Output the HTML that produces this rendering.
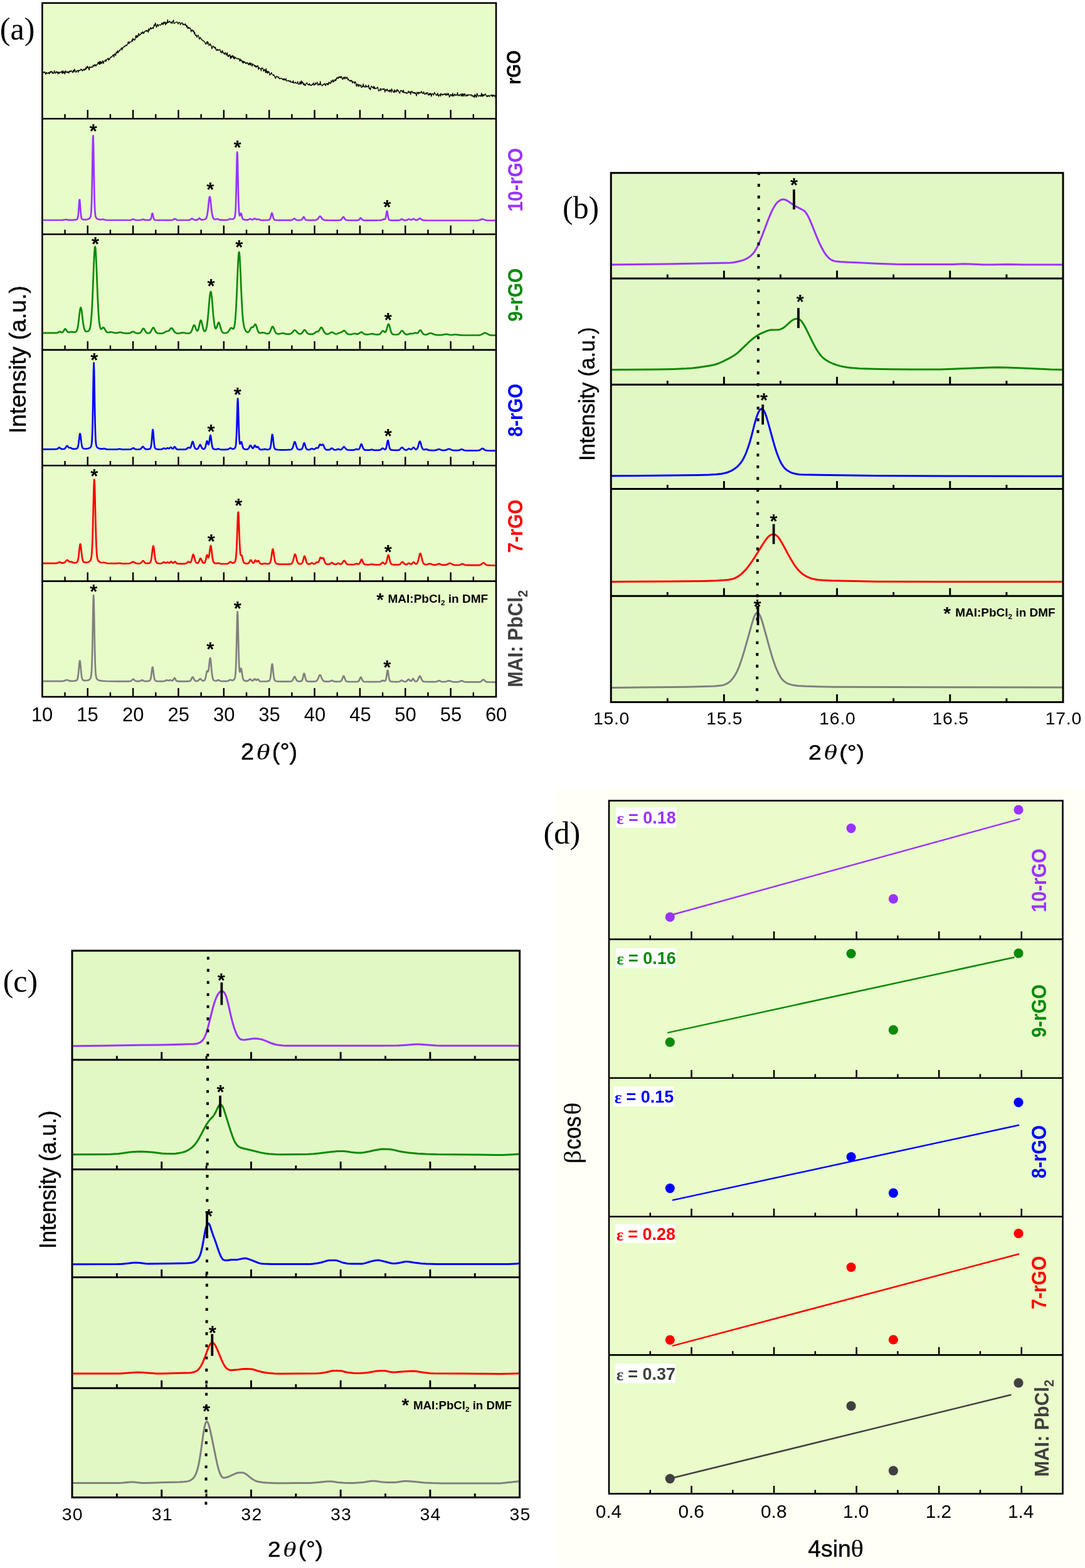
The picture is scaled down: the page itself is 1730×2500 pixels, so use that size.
<!DOCTYPE html>
<html lang="en"><head><meta charset="utf-8"><title>XRD patterns and Williamson-Hall plots</title>
<style>html,body{margin:0;padding:0;background:#fff}svg{display:block}text{font-kerning:none;white-space:pre}.hv{stroke:#000;stroke-width:.45px;stroke-linejoin:round}</style></head><body>
<svg width="1730" height="2500" viewBox="0 0 1730 2500">
<rect width="1730" height="2500" fill="#fff"/>
<g id="panel-a">
<rect x="67.4" y="4.8" width="723.6" height="1106.2" fill="#e8fcc9"/>
<path d="M139.76 189.2v-14M212.12 189.2v-14M284.48 189.2v-14M356.84 189.2v-14M429.2 189.2v-14M501.56 189.2v-14M573.92 189.2v-14M646.28 189.2v-14M718.64 189.2v-14M103.58 189.2v-7.2M175.94 189.2v-7.2M248.3 189.2v-7.2M320.66 189.2v-7.2M393.02 189.2v-7.2M465.38 189.2v-7.2M537.74 189.2v-7.2M610.1 189.2v-7.2M682.46 189.2v-7.2M754.82 189.2v-7.2M139.76 373.5v-14M212.12 373.5v-14M284.48 373.5v-14M356.84 373.5v-14M429.2 373.5v-14M501.56 373.5v-14M573.92 373.5v-14M646.28 373.5v-14M718.64 373.5v-14M103.58 373.5v-7.2M175.94 373.5v-7.2M248.3 373.5v-7.2M320.66 373.5v-7.2M393.02 373.5v-7.2M465.38 373.5v-7.2M537.74 373.5v-7.2M610.1 373.5v-7.2M682.46 373.5v-7.2M754.82 373.5v-7.2M139.76 557.9v-14M212.12 557.9v-14M284.48 557.9v-14M356.84 557.9v-14M429.2 557.9v-14M501.56 557.9v-14M573.92 557.9v-14M646.28 557.9v-14M718.64 557.9v-14M103.58 557.9v-7.2M175.94 557.9v-7.2M248.3 557.9v-7.2M320.66 557.9v-7.2M393.02 557.9v-7.2M465.38 557.9v-7.2M537.74 557.9v-7.2M610.1 557.9v-7.2M682.46 557.9v-7.2M754.82 557.9v-7.2M139.76 742.3v-14M212.12 742.3v-14M284.48 742.3v-14M356.84 742.3v-14M429.2 742.3v-14M501.56 742.3v-14M573.92 742.3v-14M646.28 742.3v-14M718.64 742.3v-14M103.58 742.3v-7.2M175.94 742.3v-7.2M248.3 742.3v-7.2M320.66 742.3v-7.2M393.02 742.3v-7.2M465.38 742.3v-7.2M537.74 742.3v-7.2M610.1 742.3v-7.2M682.46 742.3v-7.2M754.82 742.3v-7.2M139.76 926.6v-14M212.12 926.6v-14M284.48 926.6v-14M356.84 926.6v-14M429.2 926.6v-14M501.56 926.6v-14M573.92 926.6v-14M646.28 926.6v-14M718.64 926.6v-14M103.58 926.6v-7.2M175.94 926.6v-7.2M248.3 926.6v-7.2M320.66 926.6v-7.2M393.02 926.6v-7.2M465.38 926.6v-7.2M537.74 926.6v-7.2M610.1 926.6v-7.2M682.46 926.6v-7.2M754.82 926.6v-7.2M139.76 1111v-14M212.12 1111v-14M284.48 1111v-14M356.84 1111v-14M429.2 1111v-14M501.56 1111v-14M573.92 1111v-14M646.28 1111v-14M718.64 1111v-14M103.58 1111v-7.2M175.94 1111v-7.2M248.3 1111v-7.2M320.66 1111v-7.2M393.02 1111v-7.2M465.38 1111v-7.2M537.74 1111v-7.2M610.1 1111v-7.2M682.46 1111v-7.2M754.82 1111v-7.2" fill="none" stroke="#000" stroke-width="2.4"/>
<path d="M67.9 116.1L68.6 116.6 69.3 115.7 70.1 114.7 70.8 115.5 71.5 114.6 72.2 116.5 72.9 118.7 73.7 115.6 74.4 115.5 75.1 117.4 75.8 117.2 76.5 116.9 77.3 115.2 78 116.7 78.7 118 79.4 114.6 80.1 116.1 80.9 113.7 81.6 114.7 82.3 113.8 83 116.5 83.7 114.7 84.5 117.3 85.2 117.1 85.9 116.5 86.6 112.5 87.3 115.8 88.1 116.6 88.8 116.8 89.5 113.9 90.2 115.6 90.9 114.7 91.7 114.9 92.4 118 93.1 114.7 93.8 115.9 94.5 117.4 95.3 114.8 96 115.5 96.7 115.8 97.4 115.6 98.1 113.3 98.9 115.5 99.6 117.5 100.3 112.5 101 116.5 101.7 115.2 102.5 113.8 103.2 118.2 103.9 116.1 104.6 112.7 105.3 114.8 106.1 115.6 106.8 114.2 107.5 115.6 108.2 114.3 108.9 115.5 109.7 116.8 110.4 113.1 111.1 114.6 111.8 113.4 112.5 114.4 113.3 112.1 114 113.1 114.7 113.7 115.4 115.5 116.1 115.8 116.9 111.6 117.6 112.4 118.3 114.8 119 110.2 119.7 112.7 120.5 113.3 121.2 115.5 121.9 114.4 122.6 112.6 123.3 112.4 124.1 112.5 124.8 115.4 125.5 111.9 126.2 112 126.9 112.9 127.7 112 128.4 111.7 129.1 110 129.8 111.6 130.5 110.7 131.3 113.3 132 112.2 132.7 110.9 133.4 111.9 134.1 109.9 134.9 112.1 135.6 110.1 136.3 110.9 137 107.5 137.7 110 138.5 106.4 139.2 105.5 139.9 108.3 140.6 107 141.3 108.6 142.1 111.9 142.8 106.4 143.5 106.5 144.2 107.7 144.9 107.9 145.7 106.5 146.4 106.2 147.1 107.4 147.8 106.8 148.5 103.9 149.3 105.3 150 105.2 150.7 103 151.4 105 152.1 102.8 152.9 105.6 153.6 103.9 154.3 103.5 155 102 155.7 102.5 156.5 99 157.2 100.1 157.9 102.4 158.6 97.8 159.3 102.6 160.1 97.8 160.8 101.7 161.5 98.7 162.2 101.1 162.9 99.7 163.7 96.5 164.4 100.9 165.1 100.9 165.8 98 166.5 97.3 167.3 97.1 168 95.4 168.7 98.5 169.4 95.4 170.1 95.8 170.9 94.2 171.6 94 172.3 92.5 173 96.4 173.7 93.6 174.5 95.1 175.2 93 175.9 91.3 176.6 91.5 177.3 90.6 178.1 91.1 178.8 89.9 179.5 89.5 180.2 87.2 180.9 87.6 181.7 91.2 182.4 86.7 183.1 85.5 183.8 87.3 184.5 88.5 185.3 83.1 186 84.6 186.7 83.2 187.4 80.7 188.1 84.4 188.9 82.5 189.6 82 190.3 80 191 81.4 191.7 79.1 192.5 79.1 193.2 76.9 193.9 76.1 194.6 79.8 195.3 76 196.1 76.7 196.8 75.5 197.5 74.2 198.2 73.5 198.9 74.8 199.7 72.6 200.4 72.2 201.1 71.8 201.8 73.2 202.5 71.7 203.3 70.6 204 68.3 204.7 66.3 205.4 69.7 206.1 69.1 206.9 66.6 207.6 67.2 208.3 67 209 66.5 209.7 66.1 210.5 63.3 211.2 66.1 211.9 60.8 212.6 63.9 213.3 62.8 214.1 62.9 214.8 64.1 215.5 63 216.2 58 216.9 56.6 217.7 60.4 218.4 56.9 219.1 58.1 219.8 59.2 220.5 54.5 221.3 53.3 222 56.9 222.7 56.1 223.4 55.2 224.1 55.3 224.9 53.3 225.6 51.8 226.3 53.7 227 51.9 227.7 50.3 228.5 53.6 229.2 52.2 229.9 52.6 230.6 49.8 231.3 50 232.1 49 232.8 48.7 233.5 50.2 234.2 48.1 234.9 49.6 235.7 49.1 236.4 51.6 237.1 45.4 237.8 48.8 238.5 46.8 239.3 46.5 240 43.6 240.7 44.9 241.4 46.6 242.1 44.8 242.9 44.7 243.6 43.7 244.3 45.7 245 43.4 245.7 39.3 246.5 41.5 247.2 39 247.9 36.5 248.6 40.8 249.3 43.7 250.1 41.2 250.8 38.8 251.5 38.9 252.2 42.2 252.9 40.2 253.7 39.8 254.4 39.3 255.1 39.3 255.8 40.3 256.5 39.6 257.3 38.8 258 36.5 258.7 38.9 259.4 36.6 260.1 39.5 260.9 35.2 261.6 37 262.3 37 263 34.6 263.7 39.6 264.5 38.9 265.2 35.5 265.9 37.4 266.6 36.6 267.3 31.4 268.1 36.1 268.8 35.4 269.5 35.6 270.2 33.5 270.9 34.7 271.7 34.8 272.4 37.1 273.1 35.6 273.8 34.9 274.5 37.5 275.3 33.9 276 34.2 276.7 31.8 277.4 37.6 278.1 36.6 278.9 36.6 279.6 36.2 280.3 35.4 281 35.7 281.7 35 282.5 35.2 283.2 35.8 283.9 38.4 284.6 36.9 285.3 36.1 286.1 35.4 286.8 35.5 287.5 39.5 288.2 37.9 288.9 37.4 289.7 36.9 290.4 35.9 291.1 38 291.8 39.9 292.5 38.1 293.3 38.8 294 39.2 294.7 40.1 295.4 37.7 296.1 40.4 296.9 39.8 297.6 43.3 298.3 40.9 299 43.7 299.7 45.9 300.5 43.3 301.2 43.4 301.9 45.3 302.6 45.6 303.3 44.5 304.1 47.7 304.8 50.9 305.5 47.7 306.2 48.5 306.9 47.7 307.7 50.7 308.4 48.7 309.1 49.7 309.8 54.4 310.5 51.4 311.3 55.5 312 56.9 312.7 55.5 313.4 56.7 314.1 59.7 314.9 56.8 315.6 56.8 316.3 56.2 317 59.2 317.7 62.3 318.5 62.1 319.2 59.5 319.9 60.2 320.6 61.4 321.3 63.4 322.1 63.1 322.8 64.4 323.5 65.1 324.2 64.6 324.9 65.6 325.7 66.5 326.4 66.5 327.1 68 327.8 70.8 328.5 69.1 329.3 68.7 330 66.2 330.7 70.2 331.4 66.7 332.1 68.1 332.9 72.4 333.6 72.6 334.3 71.5 335 69.3 335.7 72.1 336.5 72 337.2 74.6 337.9 77.8 338.6 74.8 339.3 73.5 340.1 73.3 340.8 75.6 341.5 75.8 342.2 74.6 342.9 77.2 343.7 75.5 344.4 79.7 345.1 80.1 345.8 80.5 346.5 78.3 347.3 80.4 348 79.7 348.7 79.6 349.4 80.1 350.1 78.9 350.9 79 351.6 83.2 352.3 81.9 353 83 353.7 84.7 354.5 80.4 355.2 82.4 355.9 84.4 356.6 85.1 357.3 84.2 358.1 86.9 358.8 85.9 359.5 83.8 360.2 84.6 360.9 87.9 361.7 87.6 362.4 83.9 363.1 89.8 363.8 88.8 364.5 90.4 365.3 87.8 366 88.2 366.7 87.1 367.4 93.7 368.1 89.4 368.9 92.7 369.6 89.2 370.3 90.9 371 88.1 371.7 90.6 372.5 93.2 373.2 89.7 373.9 94 374.6 93.1 375.3 91 376.1 92.3 376.8 92.7 377.5 93.7 378.2 93.2 378.9 93.1 379.7 94.3 380.4 93.4 381.1 93.3 381.8 95.7 382.5 97.6 383.3 93.9 384 96.8 384.7 96 385.4 95.8 386.1 99.3 386.9 97.3 387.6 101 388.3 97.5 389 99.8 389.7 99 390.5 98.4 391.2 101 391.9 100.1 392.6 101.6 393.3 100.8 394.1 99.3 394.8 101.3 395.5 101.8 396.2 103.6 396.9 100.7 397.7 102.5 398.4 99.9 399.1 104.1 399.8 101.5 400.5 100.5 401.3 103.7 402 105.9 402.7 101.7 403.4 102.7 404.1 103.5 404.9 103.1 405.6 105.9 406.3 104.2 407 104.6 407.7 107.1 408.5 105.1 409.2 107.4 409.9 105.3 410.6 105.2 411.3 104.4 412.1 111 412.8 107.6 413.5 108.9 414.2 108.8 414.9 109.4 415.7 109.6 416.4 113.1 417.1 108.5 417.8 108 418.5 109.3 419.3 109.1 420 113 420.7 113.6 421.4 110.9 422.1 110.6 422.9 112.8 423.6 116.1 424.3 109.4 425 115.4 425.7 113.1 426.5 117.1 427.2 113.9 427.9 115.6 428.6 114 429.3 115.3 430.1 119.7 430.8 119.1 431.5 117.4 432.2 117 432.9 115.6 433.7 118.5 434.4 119.5 435.1 119.8 435.8 120.1 436.5 118.8 437.3 120.9 438 121.3 438.7 123.9 439.4 125.2 440.1 122.2 440.9 121.4 441.6 123 442.3 122.4 443 122.5 443.7 123.9 444.5 122.6 445.2 125.7 445.9 124.8 446.6 125.7 447.3 125.2 448.1 124.6 448.8 124.5 449.5 126 450.2 125.7 450.9 127.3 451.7 127.2 452.4 125.1 453.1 127.8 453.8 125.6 454.5 127.1 455.3 127.9 456 125.1 456.7 129 457.4 129.3 458.1 129 458.9 128.7 459.6 129 460.3 128.2 461 129.6 461.7 129.3 462.5 130.5 463.2 128.5 463.9 131.1 464.6 131.1 465.3 130.7 466.1 130.3 466.8 132.2 467.5 128.5 468.2 132.2 468.9 132 469.7 132.2 470.4 132.4 471.1 130.8 471.8 131.5 472.5 133.2 473.3 132.9 474 132.6 474.7 129.8 475.4 133.3 476.1 134.5 476.9 134.3 477.6 133.1 478.3 130.1 479 134.4 479.7 132.7 480.5 128.7 481.2 133.7 481.9 130.6 482.6 131.1 483.3 132.3 484.1 135.6 484.8 132.9 485.5 134.1 486.2 136.7 486.9 136.5 487.7 133.7 488.4 133.5 489.1 131.9 489.8 132.9 490.5 134.9 491.3 134.9 492 134.5 492.7 136.1 493.4 133.1 494.1 134.4 494.9 135.8 495.6 135.6 496.3 136.5 497 135.4 497.7 134.2 498.5 135.4 499.2 133.1 499.9 132 500.6 135.8 501.3 134.7 502.1 135.3 502.8 131.9 503.5 134.1 504.2 133.7 504.9 133.3 505.7 130.9 506.4 134.1 507.1 136.1 507.8 135.2 508.5 133.5 509.3 134.5 510 135.7 510.7 129.7 511.4 134.1 512.1 135.2 512.9 135.4 513.6 137 514.3 136 515 134.6 515.7 134.5 516.5 135.2 517.2 132.9 517.9 133.6 518.6 135.2 519.3 136.8 520.1 133.1 520.8 133.2 521.5 133.5 522.2 135.3 522.9 132.8 523.7 135.2 524.4 130.9 525.1 132 525.8 131.7 526.5 133.1 527.3 133.2 528 128.6 528.7 129.2 529.4 131 530.1 128.9 530.9 127 531.6 131 532.3 129.6 533 129.1 533.7 127 534.5 129 535.2 126.3 535.9 128.1 536.6 124.2 537.3 123.8 538.1 125.1 538.8 123.2 539.5 125.1 540.2 124.1 540.9 121.8 541.7 123.3 542.4 122.4 543.1 124.4 543.8 121.7 544.5 122 545.3 124.8 546 126.6 546.7 126.2 547.4 123.1 548.1 123.6 548.9 126.1 549.6 123.5 550.3 122.4 551 124.6 551.7 125.6 552.5 123.8 553.2 122.9 553.9 123.6 554.6 127.6 555.3 125.6 556.1 127.1 556.8 128.1 557.5 129.2 558.2 128 558.9 129.8 559.7 127.9 560.4 129.2 561.1 128.4 561.8 132.5 562.5 130.9 563.3 130 564 131.1 564.7 131.6 565.4 133.5 566.1 129.9 566.9 131.2 567.6 132.6 568.3 137.9 569 135.5 569.7 133.9 570.5 135.6 571.2 138.1 571.9 134.5 572.6 134.5 573.3 137.4 574.1 136.5 574.8 137 575.5 135.2 576.2 139.6 576.9 139.4 577.7 137.7 578.4 138.1 579.1 133.7 579.8 138.4 580.5 137.2 581.3 138.5 582 139.1 582.7 137.5 583.4 135.4 584.1 139.1 584.9 137.4 585.6 138.3 586.3 138 587 138.6 587.7 135.4 588.5 141.5 589.2 140 589.9 141.6 590.6 143.2 591.3 140 592.1 137.1 592.8 138.7 593.5 138.3 594.2 139.6 594.9 140.7 595.7 137.3 596.4 141.4 597.1 138.3 597.8 141.5 598.5 140.9 599.3 140.6 600 141.1 600.7 140.4 601.4 140.4 602.1 138.7 602.9 141.6 603.6 144.8 604.3 145.2 605 144.1 605.7 143.2 606.5 140.9 607.2 144.6 607.9 142.1 608.6 142.2 609.3 141.9 610.1 142.7 610.8 141.9 611.5 142.6 612.2 141 612.9 142.3 613.7 146.9 614.4 143.1 615.1 142.9 615.8 144.3 616.5 144.7 617.3 141.8 618 143.4 618.7 145.5 619.4 144.5 620.1 144.3 620.9 146.9 621.6 143.2 622.3 144.6 623 143.7 623.7 147.3 624.5 141.5 625.2 143.8 625.9 144.2 626.6 146.3 627.3 146.3 628.1 147.7 628.8 142.8 629.5 146.8 630.2 145.1 630.9 144.6 631.7 146.7 632.4 144.3 633.1 142.4 633.8 145.4 634.5 143.5 635.3 145 636 146.8 636.7 146.8 637.4 149 638.1 146.1 638.9 143.9 639.6 145.2 640.3 145 641 144.6 641.7 147.4 642.5 145.7 643.2 143.5 643.9 148.1 644.6 146.8 645.3 147.6 646.1 147.3 646.8 148.2 647.5 147.3 648.2 149.4 648.9 148 649.7 148.1 650.4 148.2 651.1 145 651.8 147.3 652.5 147.2 653.3 148.1 654 145.5 654.7 150.6 655.4 148.1 656.1 145.9 656.9 145.2 657.6 147.6 658.3 148 659 147 659.7 148.5 660.5 147.3 661.2 149.4 661.9 147.3 662.6 148.5 663.3 150.3 664.1 153 664.8 147 665.5 147.9 666.2 147.3 666.9 150.2 667.7 146.9 668.4 148.1 669.1 148.9 669.8 147.3 670.5 147.4 671.3 148.2 672 145.5 672.7 146.6 673.4 148.4 674.1 149.4 674.9 148.9 675.6 146.2 676.3 148.4 677 150.6 677.7 150.2 678.5 149.2 679.2 147.8 679.9 150.4 680.6 148.4 681.3 147.4 682.1 148.1 682.8 151.9 683.5 149.9 684.2 151.5 684.9 148.7 685.7 151.2 686.4 148.6 687.1 149.4 687.8 153.9 688.5 151 689.3 148.9 690 149.6 690.7 150.4 691.4 151.9 692.1 149.1 692.9 147 693.6 149.5 694.3 150 695 150.2 695.7 152.3 696.5 150.7 697.2 151.6 697.9 148.3 698.6 151.7 699.3 153.9 700.1 151.6 700.8 150.8 701.5 150.7 702.2 153.5 702.9 148.9 703.7 150.3 704.4 151.3 705.1 151.8 705.8 149.8 706.5 151.1 707.3 150.2 708 150.9 708.7 150.5 709.4 148.8 710.1 150.7 710.9 152.2 711.6 149.1 712.3 150.4 713 151.9 713.7 149 714.5 151.1 715.2 149 715.9 152.8 716.6 154.8 717.3 154.3 718.1 150.5 718.8 152.2 719.5 151.1 720.2 151.1 720.9 153.6 721.7 148.7 722.4 152.8 723.1 150.9 723.8 153.4 724.5 151.3 725.3 149.9 726 151.5 726.7 152.3 727.4 151.1 728.1 151.9 728.9 150.2 729.6 147.5 730.3 152.7 731 152.3 731.7 151.4 732.5 151.3 733.2 153 733.9 150.5 734.6 150 735.3 150.9 736.1 153.3 736.8 149 737.5 153.4 738.2 150.3 738.9 149.5 739.7 153.5 740.4 151.3 741.1 149.2 741.8 150.9 742.5 153.1 743.3 153.5 744 150.8 744.7 152.2 745.4 152.8 746.1 150.5 746.9 152.2 747.6 151.6 748.3 150.8 749 150.9 749.7 151.8 750.5 151.8 751.2 150.8 751.9 151 752.6 153.7 753.3 152.2 754.1 153.3 754.8 153.9 755.5 152.9 756.2 155.7 756.9 150.5 757.7 153.3 758.4 151.4 759.1 155.1 759.8 154.9 760.5 148.7 761.3 150.4 762 153.2 762.7 153.4 763.4 153.3 764.1 152 764.9 152.9 765.6 153.2 766.3 152 767 153.9 767.7 148.3 768.5 153.2 769.2 150.4 769.9 153.8 770.6 151.8 771.3 150.7 772.1 152.9 772.8 150.7 773.5 150.7 774.2 149.6 774.9 152.3 775.7 153.2 776.4 154.1 777.1 152.1 777.8 154.1 778.5 152.4 779.3 152.2 780 153.4 780.7 154.2 781.4 151.8 782.1 152 782.9 152.2 783.6 152.6 784.3 150.9 785 154.2 785.7 151.8 786.5 153.3 787.2 151.1 787.9 153.1 788.6 153.2 789.3 151.8 790.1 156" fill="none" stroke="#000" stroke-width="1.25" stroke-linejoin="round" stroke-linecap="butt"/>
<path d="M67.6 351L99.6 350.9 101.6 350.7 104.6 350 105.6 350 108.1 350.6 110.1 350.8 116.6 350.7 120.1 350.4 121.6 350.1 122.6 349.7 123.1 349.2 123.6 348.4 124.1 346.7 124.6 343.7 125.1 338.7 125.6 331.9 126.1 324.4 126.6 318.8 127.1 318.4 127.6 323.5 128.1 330.9 128.6 337.9 129.1 343.1 129.6 346.4 130.1 348.1 130.6 349 131.1 349.4 132.1 349.8 134.1 350.1 136.6 350.1 139.1 349.8 140.6 349.4 141.6 348.9 142.6 348.2 143.1 347.7 143.6 347 144.1 346 144.6 344.4 145.1 341.3 145.6 335.1 146.1 323.5 146.6 304.1 147.1 276.8 147.6 245.6 148.1 220.9 148.6 216.3 149.1 234.9 149.6 265.2 150.1 294.8 150.6 317.3 151.1 331.6 151.6 339.5 152.1 343.5 152.6 345.6 153.1 346.8 153.6 347.5 154.1 348.1 155.1 348.9 156.6 349.6 158.6 350 160.6 350.2 162.1 350 164.1 349.7 165.1 349.8 167.6 350.5 169.6 350.8 182.1 351 206.1 351 208.1 350.9 209.6 350.5 211.6 349.6 212.1 349.6 212.6 349.6 215.1 350.6 216.6 350.9 221.1 351 224.1 350.9 225.6 350.5 227.6 349.9 228.6 349.9 231.1 350.7 233.1 350.9 237.1 350.9 238.6 350.7 239.1 350.6 239.6 350.3 240.1 349.8 240.6 348.9 241.1 347.3 241.6 345.1 242.1 342.6 242.6 340.6 243.1 340.2 243.6 341.7 244.6 346.5 245.1 348.4 245.6 349.5 246.1 350.2 246.6 350.5 247.6 350.8 251.1 351 268.1 351.1 273.6 351 275.1 350.7 276.1 350.3 278.1 349 278.6 348.9 279.1 349 280.1 349.5 281.6 350.4 282.6 350.8 284.6 351 297.1 351 301.1 350.9 302.6 350.6 303.6 350.1 305.1 349 305.6 348.7 306.1 348.5 306.6 348.6 307.1 348.8 309.1 350.2 310.1 350.6 311.6 350.8 313.6 350.7 314.6 350.4 315.1 350.2 315.6 349.8 317.1 348.3 317.6 348 318.1 348.1 318.6 348.4 320.1 349.8 320.6 350.1 321.6 350.4 323.1 350.4 325.6 350 327.1 349.5 327.6 349.2 328.1 348.8 328.6 348.1 329.1 347.2 329.6 345.8 330.1 343.9 330.6 341.4 331.1 338.1 331.6 334.1 332.1 329.6 332.6 324.8 333.1 320.1 333.6 316.3 334.1 313.9 334.6 313.7 335.1 315.6 335.6 319.1 336.1 323.6 336.6 328.5 337.1 333.1 337.6 337.2 338.1 340.7 338.6 343.4 339.1 345.4 339.6 346.9 340.1 347.9 340.6 348.6 341.1 349.1 341.6 349.4 342.6 349.7 343.6 349.7 345.1 349.4 346.1 349.1 346.6 349.1 347.1 349.1 348.6 349.8 350.1 350.4 351.6 350.7 356.6 350.8 361.6 350.7 363.1 350.5 364.6 350 366.1 349.3 366.6 349.1 367.1 349 368.1 349.1 369.6 349.5 370.6 349.5 371.6 349.3 372.6 348.7 373.1 348.2 373.6 347.6 374.1 346.7 374.6 345 375.1 341.8 375.6 335.4 376.1 323.9 376.6 305.8 377.1 282 377.6 257.6 378.1 242.5 378.6 246.2 379.1 266 379.6 291 380.1 313 380.6 328.5 381.1 337.7 381.6 342.2 382.1 343.8 382.6 343.8 383.1 342.7 383.6 341.2 384.1 340.1 384.6 340.5 385.1 342.2 385.6 344.5 386.1 346.6 386.6 348.1 387.1 349 387.6 349.6 388.1 349.9 389.1 350.2 391.6 350.6 394.1 350.6 395.6 350.4 397.1 349.6 398.1 349.1 398.6 348.9 399.1 349 400.1 349.4 401.1 349.9 402.1 350.2 402.6 350.2 403.1 350.1 404.1 349.5 405.1 348.8 405.6 348.6 406.1 348.5 406.6 348.6 408.6 349.7 409.1 349.9 410.1 349.8 411.6 349.5 412.1 349.5 413.1 349.9 414.6 350.6 416.1 350.9 419.6 351.1 426.1 351 428.1 350.8 429.1 350.5 429.6 350.2 430.1 349.7 430.6 348.9 431.1 347.7 431.6 346 432.6 341.8 433.1 340.2 433.6 339.6 434.1 340.5 434.6 342.3 435.1 344.4 435.6 346.4 436.1 348 436.6 349.2 437.1 349.9 437.6 350.3 438.1 350.6 439.6 350.9 444.6 351.2 461.1 351.2 464.1 351.1 465.1 350.9 466.1 350.5 467.1 349.8 468.1 348.9 468.6 348.6 469.1 348.5 469.6 348.6 470.1 348.8 471.6 350.1 472.6 350.7 473.6 351 475.6 351.1 479.1 351 480.1 350.8 480.6 350.6 481.1 350.3 481.6 349.8 482.1 349 483.1 347.1 483.6 346.2 484.1 345.8 484.6 346 485.1 346.7 486.1 348.7 486.6 349.5 487.1 350.1 487.6 350.5 488.1 350.8 489.1 351 493.1 351.2 501.1 351.1 503.6 350.8 504.6 350.5 505.6 350 506.1 349.6 507.1 348.4 508.6 346.2 509.1 345.6 509.6 345.1 510.1 344.8 510.6 344.9 511.1 345.3 511.6 345.8 513.6 348.7 514.1 349.3 515.1 350.1 516.1 350.6 517.6 351 521.6 351.2 536.6 351.3 541.6 351.1 542.6 350.9 543.6 350.5 544.1 350.1 544.6 349.6 545.1 348.9 546.6 346.5 547.1 346 547.6 345.9 548.1 346.3 548.6 346.9 549.6 348.6 550.1 349.3 550.6 349.9 551.1 350.4 551.6 350.7 552.6 351 555.1 351.2 566.6 351.3 570.6 351.2 571.6 350.9 572.1 350.6 572.6 350.2 573.1 349.7 574.1 348.3 574.6 347.8 575.1 347.6 575.6 347.8 576.1 348.4 577.1 349.8 577.6 350.3 578.1 350.7 579.1 351.1 581.1 351.3 597.1 351.4 606.1 351.2 607.6 351.1 609.1 350.6 611.1 349.7 611.6 349.6 613.1 349.7 613.6 349.6 614.1 349.3 614.6 348.3 615.1 346.5 615.6 343.7 616.1 340.4 616.6 337.4 617.1 336.4 617.6 338 618.1 341.2 618.6 344.6 619.1 347.2 619.6 349 620.1 350 620.6 350.5 621.1 350.8 622.6 351.1 627.1 351.3 634.6 351.3 636.6 351.1 637.6 350.8 639.6 349.6 640.1 349.5 640.6 349.4 641.1 349.5 643.6 350.8 645.1 351.2 647.1 351.2 648.6 350.9 649.6 350.5 651.1 349.6 651.6 349.4 652.1 349.3 652.6 349.4 654.6 350.4 655.1 350.5 655.6 350.6 656.1 350.5 657.1 350.1 658.6 349 659.1 348.9 659.6 348.9 660.1 349.1 662.1 350.5 663.1 350.9 664.1 350.9 665.1 350.8 666.1 350.3 667.6 349.2 668.6 348.5 669.1 348.3 669.6 348.2 670.1 348.4 671.1 349.1 672.6 350.3 673.6 350.8 675.1 351.2 678.6 351.4 722.6 351.5 759.1 351.5 762.6 351.3 764.6 350.8 768.1 349.6 769.1 349.4 770.1 349.5 771.6 350 774.1 350.9 776.1 351.3 779.6 351.5 790.6 351.6" fill="none" stroke="#9933ff" stroke-width="2.7" stroke-linejoin="round" stroke-linecap="butt"/>
<path d="M67.6 530.9L89.1 530.9 91.1 530.6 92.1 530.3 93.6 529.4 94.6 528.8 95.1 528.6 95.6 528.7 96.6 529.2 97.6 529.7 98.1 529.9 98.6 530 99.1 530 99.6 529.8 100.1 529.4 100.6 528.9 101.1 528.2 102.6 525.7 103.1 524.9 103.6 524.5 104.1 524.3 104.6 524.6 105.1 525.1 106.1 526.7 107.1 528.3 107.6 528.8 108.1 529.3 108.6 529.6 109.1 529.7 110.1 529.7 113.1 529.1 114.6 529.1 118.1 529.7 119.6 529.6 120.6 529.3 121.1 528.9 121.6 528.4 122.1 527.7 122.6 526.6 123.1 525.2 123.6 523.3 124.1 520.9 124.6 517.9 125.1 514.4 125.6 510.4 126.6 501.7 127.1 497.6 127.6 494.1 128.1 491.6 128.6 490.4 129.1 490.6 129.6 492.3 130.1 495.1 130.6 498.8 131.1 503 131.6 507.3 132.1 511.5 132.6 515.3 133.1 518.6 133.6 521.3 134.1 523.5 134.6 525.1 135.1 526.3 135.6 527.2 136.1 527.8 136.6 528.2 137.1 528.4 138.1 528.5 139.6 528.3 140.6 527.9 141.1 527.6 141.6 527.1 142.1 526.5 142.6 525.6 143.1 524.4 143.6 522.7 144.1 520.3 144.6 517.2 145.1 513 145.6 507.6 146.1 500.9 146.6 492.7 147.1 483.1 147.6 472 148.1 459.8 148.6 446.9 149.1 433.9 149.6 421.3 150.1 410.2 150.6 401.2 151.1 395.4 151.6 393.2 152.1 394.9 152.6 400.4 153.1 409.1 153.6 420.1 154.1 432.5 154.6 445.6 155.1 458.5 155.6 470.8 156.1 482 156.6 491.8 157.1 500.1 157.6 507 158.1 512.4 158.6 516.6 159.1 519.7 159.6 521.9 160.1 523.4 160.6 524.2 161.1 524.6 161.6 524.6 162.1 524.3 163.1 523.3 163.6 522.7 164.1 522.3 164.6 522.1 165.1 522.1 165.6 522.5 166.1 523.2 167.1 525 168.1 526.8 168.6 527.6 169.1 528.3 169.6 528.9 170.1 529.3 171.1 529.8 172.1 530 173.6 529.9 176.6 529.4 178.1 529.5 180.6 530.2 182.6 530.7 184.6 530.9 186.6 530.8 189.6 530.1 191.1 529.8 192.6 529.9 194.6 530.4 197.1 531 199.6 531.3 204.6 531.4 206.6 531.2 208.1 530.7 210.6 529.1 211.6 528.8 212.1 528.7 212.6 528.8 213.6 529.3 215.6 530.5 217.1 531.1 218.6 531.3 221.1 531.3 222.6 531 223.6 530.4 224.1 530 224.6 529.4 225.1 528.7 226.1 527 227.1 525.2 227.6 524.4 228.1 523.9 228.6 523.7 229.1 523.9 229.6 524.4 230.1 525.1 231.6 527.8 232.1 528.6 232.6 529.4 233.1 529.9 233.6 530.4 234.6 530.9 235.6 531.2 237.1 531.1 238.1 530.9 238.6 530.6 239.1 530.3 239.6 529.8 240.1 529.2 240.6 528.4 241.1 527.5 242.6 524.5 243.1 523.6 243.6 522.9 244.1 522.5 244.6 522.4 245.1 522.8 245.6 523.4 246.1 524.3 247.6 527.4 248.1 528.3 248.6 529.1 249.1 529.8 249.6 530.3 250.1 530.7 251.1 531.2 252.6 531.5 256.1 531.6 258.6 531.4 260.1 531 261.6 530.4 264.6 528.7 266.1 528.2 268.1 527.8 269.1 527.3 270.1 526.3 272.1 523.9 272.6 523.5 273.1 523.2 273.6 523.1 274.1 523.2 274.6 523.6 275.1 524.2 276.1 525.7 277.6 528.1 278.6 529.4 279.6 530.3 280.6 531 282.1 531.4 284.1 531.6 286.1 531.4 288.6 530.9 290.6 530.4 292.1 530.3 293.6 530.5 296.6 531.3 298.6 531.5 301.1 531.4 302.1 531.2 303.1 530.8 303.6 530.5 304.1 530 304.6 529.3 305.1 528.5 305.6 527.4 306.1 526.2 307.1 523.3 307.6 521.8 308.1 520.4 308.6 519.3 309.1 518.6 309.6 518.4 310.1 518.7 310.6 519.5 311.1 520.6 312.6 524.7 313.1 525.8 313.6 526.7 314.1 527.3 314.6 527.5 315.1 527.2 315.6 526.5 316.1 525.4 316.6 523.8 317.1 521.9 317.6 519.6 318.6 514.9 319.1 512.8 319.6 511.4 320.1 510.7 320.6 510.9 321.1 511.9 321.6 513.7 322.1 515.8 323.1 520.6 323.6 522.7 324.1 524.5 324.6 526 325.1 527.1 325.6 527.8 326.1 528.2 326.6 528.2 327.1 528 327.6 527.4 328.1 526.5 328.6 525.1 329.1 523.4 329.6 521 330.1 518.1 330.6 514.5 331.1 510.3 331.6 505.4 332.1 499.9 332.6 494 333.6 481.9 334.1 476.2 334.6 471.4 335.1 467.7 335.6 465.4 336.1 464.9 336.6 466.1 337.1 469 337.6 473.2 338.1 478.4 338.6 484.2 339.6 496.3 340.1 502 340.6 507.2 341.1 511.7 341.6 515.5 342.1 518.6 342.6 521 343.1 522.6 343.6 523.5 344.1 523.8 344.6 523.6 345.1 522.8 345.6 521.7 346.1 520.2 347.1 517 347.6 515.6 348.1 514.6 348.6 514.2 349.1 514.5 349.6 515.3 350.1 516.7 350.6 518.4 351.6 522.2 352.1 524 352.6 525.6 353.1 527 353.6 528.1 354.1 529 354.6 529.6 355.1 530.1 355.6 530.4 356.6 530.8 358.1 531 360.1 530.9 361.6 530.6 362.6 530.1 363.6 529.3 364.1 528.7 365.1 527.3 366.6 524.8 367.1 524 367.6 523.4 368.1 523 368.6 522.8 369.1 522.9 369.6 523.1 371.1 524.2 371.6 524.4 372.1 524.3 372.6 523.7 373.1 522.7 373.6 520.9 374.1 518.3 374.6 514.7 375.1 509.9 375.6 503.7 376.1 496.2 376.6 487.2 377.1 476.9 377.6 465.4 378.1 453.3 378.6 441 379.1 429.1 379.6 418.5 380.1 409.9 380.6 404.2 381.1 401.9 381.6 403.3 382.1 408.3 382.6 416.3 383.1 426.4 383.6 438 384.1 450.1 384.6 462.1 385.1 473.3 385.6 483.6 386.1 492.5 386.6 500 387.1 506.1 387.6 511 388.1 514.8 388.6 517.8 389.1 520.3 389.6 522.2 390.1 523.8 390.6 525.1 391.1 526.3 391.6 527.2 392.1 528 392.6 528.6 393.1 529.1 393.6 529.4 394.1 529.7 394.6 529.8 395.1 529.8 395.6 529.7 396.1 529.4 396.6 529 397.1 528.4 397.6 527.6 398.6 525.8 399.6 523.8 400.1 522.9 400.6 522.3 401.1 521.9 401.6 521.7 403.1 521.8 403.6 521.5 404.1 521.1 404.6 520.4 406.1 517.8 406.6 517.2 407.1 517.1 407.6 517.5 408.1 518.3 408.6 519.6 409.1 521.1 410.1 524.4 410.6 525.9 411.1 527.3 411.6 528.4 412.1 529.3 412.6 530 413.1 530.5 413.6 530.8 414.1 530.9 415.1 531 418.1 530.3 419.1 530.2 420.6 530.5 423.6 531.6 425.1 532 426.6 532 427.6 531.9 428.6 531.5 429.1 531.1 429.6 530.6 430.1 529.9 430.6 529 431.1 528 431.6 526.8 433.1 522.8 433.6 521.8 434.1 521 434.6 520.7 435.1 520.8 435.6 521.4 436.1 522.4 436.6 523.6 437.6 526.3 438.1 527.6 438.6 528.7 439.1 529.7 439.6 530.5 440.1 531.1 440.6 531.5 441.6 532 443.1 532.3 445.1 532.3 447.1 532 450.1 531.3 451.6 531.3 453.6 531.7 456.1 532.4 458.6 532.6 461.1 532.6 462.6 532.3 463.6 532 464.6 531.4 465.6 530.5 467.1 528.8 468.1 527.6 468.6 527.1 469.1 526.7 469.6 526.5 470.1 526.4 470.6 526.6 471.1 526.8 472.1 527.8 474.1 530.2 475.1 531.1 476.1 531.8 477.1 532.2 478.1 532.4 479.1 532.3 480.1 532 480.6 531.7 481.1 531.3 481.6 530.8 482.6 529.4 484.1 527.2 484.6 526.6 485.1 526.1 485.6 526 486.1 526.1 486.6 526.5 487.1 527.1 489.1 530.1 489.6 530.8 490.1 531.3 490.6 531.7 491.6 532.3 493.1 532.7 496.1 532.8 498.1 532.7 499.6 532.4 500.6 531.9 502.1 530.7 503.6 529.4 504.1 529.1 505.1 528.8 506.6 528.7 507.1 528.6 507.6 528.3 508.1 527.8 508.6 527.2 509.6 525.6 510.6 523.8 511.1 523 511.6 522.5 512.1 522.2 512.6 522.1 513.1 522.4 513.6 523 514.1 523.8 515.1 525.7 516.1 527.8 517.1 529.6 517.6 530.3 518.1 530.9 518.6 531.4 519.6 532.1 520.6 532.5 522.1 532.6 523.6 532.3 525.1 531.6 527.6 530.1 528.6 529.7 529.6 529.7 530.6 530.1 533.6 531.9 534.6 532.3 535.6 532.5 537.1 532.3 538.6 531.8 541.1 530.7 544.1 529.8 545.1 529.3 547.6 527.4 548.1 527.1 548.6 527.1 549.1 527.2 549.6 527.5 550.1 528 552.6 531.1 553.6 532 554.6 532.6 555.6 532.9 557.1 533.2 559.1 533.1 561.1 532.8 564.1 532 565.6 531.9 567.6 532.3 569.1 532.6 570.1 532.6 571.1 532.4 572.1 531.9 574.6 530.1 575.1 529.8 575.6 529.6 576.1 529.5 576.6 529.6 577.1 529.8 578.1 530.5 580.1 532.1 581.1 532.7 582.6 533.2 584.6 533.4 587.1 533.2 589.6 532.7 591.6 532.2 593.1 532.1 594.6 532.4 597.6 533.1 600.1 533.4 603.1 533.4 604.6 533.1 605.6 532.7 606.1 532.3 606.6 531.8 607.6 530.6 609.1 528.5 609.6 527.9 610.1 527.6 610.6 527.4 611.1 527.6 611.6 527.9 613.1 529.3 613.6 529.6 614.1 529.7 614.6 529.4 615.1 528.9 615.6 527.9 616.1 526.6 616.6 524.9 617.6 521.1 618.1 519.3 618.6 517.9 619.1 516.9 619.6 516.7 620.1 517.2 620.6 518.4 621.1 520.1 622.6 526 623.1 527.8 623.6 529.2 624.1 530.4 624.6 531.4 625.1 532 625.6 532.5 626.1 532.9 627.1 533.2 629.1 533.5 632.6 533.5 634.1 533.3 635.1 533 636.1 532.4 637.1 531.4 638.6 529.5 639.6 528.3 640.1 527.8 640.6 527.5 641.1 527.4 641.6 527.5 642.1 527.8 642.6 528.3 644.6 531 645.6 532 646.6 532.8 647.6 533.2 648.6 533.3 650.1 533.2 652.1 532.5 654.1 531.9 655.6 531.8 657.6 532 658.6 531.9 660.1 531.3 661.6 530.7 662.6 530.6 664.6 531.2 665.1 531.2 665.6 531.1 666.1 530.8 666.6 530.4 667.1 529.8 668.6 527.6 669.1 527 669.6 526.5 670.1 526.4 670.6 526.5 671.1 526.9 671.6 527.6 673.6 530.9 674.1 531.6 674.6 532.2 675.1 532.6 676.1 533.2 677.1 533.5 678.6 533.6 680.1 533.4 682.1 532.7 685.1 531.4 686.1 531.2 687.1 531.2 688.1 531.4 690.1 532.2 692.6 533.3 694.6 533.8 697.1 534.1 702.1 534.1 705.1 533.9 710.1 532.9 711.6 532.8 713.6 533.1 717.1 533.8 719.1 534 721.6 533.8 725.1 533.4 727.1 533.5 732.6 534.2 737.1 534.4 761.1 534.5 764.1 534.4 766.1 534 767.6 533.4 769.6 532.3 771.6 531.1 772.6 530.8 773.6 530.7 774.6 530.9 776.1 531.7 778.6 533.2 780.1 533.9 782.1 534.4 785.1 534.6 790.6 534.7" fill="none" stroke="#0a8a0a" stroke-width="2.7" stroke-linejoin="round" stroke-linecap="butt"/>
<path d="M67.6 716.3L88.6 716.2 90.6 716 91.6 715.7 92.1 715.3 93.6 713.9 94.1 713.5 94.6 713.5 95.1 713.7 96.6 715.1 97.1 715.5 98.1 715.9 99.6 716 101.6 715.9 102.6 715.6 103.1 715.4 103.6 715 104.1 714.5 104.6 713.8 106.1 711.4 106.6 711 107.1 710.9 107.6 711.2 109.1 713.1 109.6 713.6 110.1 713.9 110.6 714 112.1 713.9 112.6 714 113.6 714.5 115.1 715.4 116.1 715.7 117.6 715.9 120.1 715.7 121.6 715.5 122.6 715.1 123.1 714.7 123.6 714 124.1 712.9 124.6 711.1 125.1 708.4 125.6 704.8 126.1 700.6 126.6 696.3 127.1 692.8 127.6 691.4 128.1 692.8 128.6 696.2 129.6 704.7 130.1 708.3 130.6 711 131.1 712.8 131.6 713.9 132.1 714.5 132.6 714.9 133.6 715.3 135.6 715.5 138.1 715.5 140.6 715.1 142.1 714.6 143.1 714.1 143.6 713.7 144.1 713.3 144.6 712.7 145.1 711.8 145.6 710.4 146.1 707.8 146.6 702.8 147.1 693 147.6 676 148.1 650.6 148.6 619.4 149.1 590.8 149.6 578.5 150.1 590.7 150.6 619.3 151.1 650.5 151.6 676 152.1 693 152.6 702.8 153.1 707.9 153.6 710.5 154.1 711.9 154.6 712.7 155.1 713.4 155.6 713.8 156.6 714.5 158.1 715.1 160.1 715.6 162.1 715.7 163.6 715.6 165.6 715.2 166.6 715.3 169.1 716.1 171.1 716.3 182.6 716.5 186.6 716.4 188.6 716.1 190.1 715.8 191.1 715.8 193.6 716.4 196.6 716.6 206.6 716.5 208.1 716.4 209.1 716.1 210.1 715.6 211.6 714.6 212.1 714.4 212.6 714.4 213.1 714.5 215.1 715.8 216.1 716.2 217.6 716.5 221.1 716.5 222.6 716.3 223.6 716.1 224.1 715.8 224.6 715.4 225.1 714.9 226.1 713.6 226.6 712.9 227.1 712.4 227.6 712.1 228.1 712.1 228.6 712.5 230.1 714.5 230.6 715.1 231.1 715.5 231.6 715.8 232.6 716.2 234.6 716.3 237.1 716.1 238.6 715.7 239.1 715.5 239.6 715 240.1 714.3 240.6 712.8 241.1 710.3 241.6 706.2 242.1 700.6 242.6 694 243.1 688 243.6 685 244.1 686.8 244.6 692.2 245.1 698.8 245.6 704.8 246.1 709.3 246.6 712.3 247.1 714 247.6 714.9 248.1 715.4 248.6 715.7 250.1 716.1 253.1 716.5 256.1 716.5 257.6 716.3 258.6 716 260.6 714.8 261.1 714.7 261.6 714.7 262.6 715.1 263.6 715.5 264.1 715.6 264.6 715.6 265.1 715.4 266.6 714.5 267.1 714.3 267.6 714.4 268.6 715 269.1 715.1 269.6 715.1 270.1 714.9 270.6 714.4 271.6 713.4 272.1 713.1 272.6 713.3 273.1 713.7 274.1 714.9 274.6 715.3 275.1 715.5 275.6 715.5 276.1 715.2 276.6 714.6 277.6 713.1 278.1 712.5 278.6 712.3 279.1 712.7 279.6 713.4 280.6 714.9 281.1 715.6 281.6 716 282.1 716.3 283.1 716.6 286.6 716.7 293.6 716.7 295.6 716.5 296.6 716.2 297.6 715.7 298.6 714.8 299.6 713.9 300.1 713.6 300.6 713.5 301.1 713.6 302.1 714.1 302.6 714.2 303.1 714.1 303.6 713.7 304.1 712.9 304.6 711.6 305.1 710 306.1 706.2 306.6 704.7 307.1 704 307.6 704.3 308.1 705.6 308.6 707.4 309.1 709.3 309.6 711.2 310.1 712.7 310.6 713.9 311.1 714.8 311.6 715.3 312.1 715.7 312.6 715.9 313.6 716 314.6 715.8 315.1 715.5 315.6 715 316.1 714.3 316.6 713.4 318.1 710.1 318.6 709.3 319.1 709 319.6 709.3 320.1 710.2 321.1 712.5 321.6 713.5 322.1 714.4 322.6 715 323.1 715.5 323.6 715.7 324.6 715.9 325.1 715.8 325.6 715.7 326.1 715.4 326.6 714.8 327.1 713.9 327.6 712.5 328.1 710.6 329.1 705.9 329.6 703.9 330.1 703.1 330.6 703.8 331.1 705.4 331.6 707.3 332.1 708.6 332.6 708.8 333.1 707.7 333.6 705.3 334.1 701.8 334.6 698 335.1 694.9 335.6 693.9 336.1 695.4 336.6 698.9 337.1 703.1 337.6 707.1 338.1 710.3 338.6 712.6 339.1 714.1 339.6 715.1 340.1 715.6 340.6 715.9 341.6 716.2 343.6 716.5 345.1 716.4 347.6 715.7 348.6 715.7 351.1 716.5 352.6 716.8 357.6 716.9 362.1 716.7 363.6 716.4 364.6 716 366.6 714.6 367.1 714.4 367.6 714.4 368.1 714.6 369.6 715.4 370.6 715.8 371.6 715.8 372.6 715.6 373.6 715.2 374.1 714.8 374.6 714.3 375.1 713.5 375.6 712 376.1 709.2 376.6 703.6 377.1 693.8 377.6 679.1 378.1 660.8 378.6 643.7 379.1 635.7 379.6 642.1 380.1 658.5 380.6 676.7 381.1 691.6 381.6 701.2 382.1 706.1 382.6 707.8 383.1 707.6 383.6 706.4 384.1 705.1 384.6 704.5 385.1 705 385.6 706.5 386.6 710.8 387.1 712.6 387.6 713.9 388.1 714.9 388.6 715.5 389.1 715.8 390.1 716.2 392.1 716.5 393.6 716.4 394.6 716.3 395.1 716.1 395.6 715.7 396.1 715.2 396.6 714.5 397.1 713.6 398.1 711.5 398.6 710.6 399.1 710 399.6 710 400.1 710.4 400.6 711.3 401.6 713.3 402.1 714.1 402.6 714.6 403.1 714.8 403.6 714.6 404.1 714 404.6 713.1 405.6 710.8 406.1 710.1 406.6 710.1 407.1 710.8 408.1 712.6 408.6 713.2 409.1 713.3 409.6 713.1 410.6 712.2 411.1 712.2 411.6 712.7 413.1 715.2 413.6 715.8 414.1 716.3 414.6 716.6 415.6 716.8 417.6 716.9 419.1 716.7 421.6 716.1 422.6 716.1 425.1 716.7 426.6 716.8 428.6 716.5 429.6 716.1 430.1 715.7 430.6 715 431.1 713.7 431.6 711.6 432.1 708.5 432.6 704.3 433.1 699.6 433.6 695.2 434.1 692.7 434.6 693.3 435.1 696.6 436.1 705.8 436.6 709.7 437.1 712.5 437.6 714.3 438.1 715.3 438.6 716 439.1 716.3 440.1 716.7 442.6 717 448.6 717.3 458.6 717.2 462.6 717 464.1 716.7 464.6 716.5 465.1 716.2 465.6 715.8 466.1 715.1 466.6 714.1 467.1 712.8 467.6 711.2 468.6 707.4 469.1 705.7 469.6 704.6 470.1 704.3 470.6 704.9 471.1 706.3 472.1 710 472.6 711.8 473.1 713.2 473.6 714.4 474.1 715.3 474.6 715.9 475.1 716.3 476.1 716.7 477.6 716.9 479.1 716.8 480.1 716.6 480.6 716.4 481.1 716 481.6 715.4 482.1 714.5 482.6 713.2 483.1 711.6 484.1 708.1 484.6 706.8 485.1 706.3 485.6 706.9 486.1 708.3 487.1 711.9 487.6 713.5 488.1 714.7 488.6 715.6 489.1 716.2 489.6 716.5 490.6 716.9 492.1 717 493.6 716.9 494.6 716.5 496.6 715.4 497.1 715.3 497.6 715.3 498.6 715.8 499.6 716.2 500.1 716.4 500.6 716.4 501.1 716.3 501.6 716.1 502.6 715.4 503.6 714.5 504.1 714.1 504.6 714 505.1 714.1 506.1 714.4 506.6 714.3 507.1 714.1 507.6 713.5 508.1 712.6 509.1 710.3 509.6 709.2 510.1 708.6 510.6 708.5 511.1 708.9 511.6 709.4 512.1 709.9 512.6 710 513.1 709.8 514.1 708.9 514.6 708.6 515.1 708.8 515.6 709.6 516.1 710.8 517.1 713.4 517.6 714.5 518.1 715.3 518.6 716 519.1 716.4 519.6 716.7 520.6 717.1 522.6 717.2 524.6 717.2 525.6 716.9 526.6 716.3 528.1 715 528.6 714.7 529.1 714.6 529.6 714.7 530.1 715 531.6 716.4 532.6 717 533.6 717.2 535.1 717.3 536.6 717 538.6 716.1 539.1 716 539.6 716.1 542.1 716.9 543.1 717 544.1 716.7 544.6 716.4 545.1 716 546.1 714.8 547.1 713.4 547.6 712.8 548.1 712.5 548.6 712.4 549.1 712.7 549.6 713.2 551.1 715.2 551.6 715.8 552.1 716.3 553.1 717 554.1 717.3 556.1 717.5 562.1 717.6 564.1 717.5 565.6 717.1 567.6 716.2 568.1 716.1 569.1 716.2 570.6 716.7 571.1 716.7 571.6 716.6 572.1 716.4 572.6 715.9 573.1 715.1 573.6 714.1 574.1 712.8 575.1 709.9 575.6 708.7 576.1 708.1 576.6 708.3 577.1 709.2 577.6 710.6 578.6 713.5 579.1 714.7 579.6 715.6 580.1 716.3 580.6 716.8 581.1 717.1 582.1 717.4 584.6 717.6 588.1 717.7 590.1 717.4 592.1 716.9 593.1 716.9 596.1 717.6 598.6 717.8 604.1 717.7 605.6 717.5 606.6 717.2 607.6 716.6 609.1 715.2 609.6 714.9 610.1 714.7 610.6 714.8 611.1 715.1 612.6 716.3 613.1 716.5 613.6 716.6 614.1 716.6 614.6 716.3 615.1 715.6 615.6 714.5 616.1 712.8 616.6 710.4 617.6 704.8 618.1 702.7 618.6 702.2 619.1 703.5 619.6 706 620.1 708.9 620.6 711.6 621.1 713.7 621.6 715.2 622.1 716.2 622.6 716.8 623.1 717.1 624.1 717.4 627.1 717.7 633.1 717.8 635.1 717.6 636.1 717.4 637.1 717 638.1 716.1 640.1 713.9 640.6 713.5 641.1 713.4 641.6 713.5 642.1 713.9 644.1 716.2 645.1 716.9 646.1 717.4 647.1 717.5 648.1 717.4 649.1 717.1 650.1 716.4 651.1 715.7 651.6 715.4 652.1 715.3 652.6 715.4 654.6 716.5 655.1 716.7 655.6 716.6 656.1 716.4 656.6 716 657.1 715.5 658.1 714.2 658.6 713.6 659.1 713.3 659.6 713.3 660.1 713.7 661.6 715.5 662.1 716 662.6 716.4 663.1 716.5 663.6 716.5 664.1 716.4 664.6 716 665.1 715.4 665.6 714.5 666.1 713.3 666.6 711.8 667.1 710.1 668.1 706.4 668.6 704.8 669.1 703.8 669.6 703.7 670.1 704.4 670.6 705.8 671.1 707.6 672.1 711.3 672.6 712.9 673.1 714.2 673.6 715.2 674.1 715.9 674.6 716.4 675.1 716.7 675.6 716.8 676.6 716.8 679.1 716.4 680.1 716.4 683.6 717.6 685.6 717.9 690.6 718.1 694.1 717.9 695.6 717.7 697.1 717.1 699.1 716.3 700.1 716.2 701.1 716.5 703.6 717.5 705.1 717.9 707.1 718 709.1 717.9 711.1 717.4 714.6 716 715.6 715.8 716.6 715.9 718.1 716.5 720.6 717.5 722.6 718 725.6 718.2 729.6 718.2 731.6 717.9 733.1 717.4 735.1 716.5 736.1 716.4 737.1 716.6 739.6 717.7 741.1 718.1 743.6 718.3 758.1 718.4 762.6 718.2 764.1 718 765.1 717.6 766.1 717 768.1 715.4 768.6 715.2 769.1 715 769.6 715 770.1 715.2 771.1 715.9 772.6 717.1 773.6 717.7 775.1 718.1 777.6 718.4 790.6 718.6" fill="none" stroke="#0000ff" stroke-width="2.7" stroke-linejoin="round" stroke-linecap="butt"/>
<path d="M67.6 898.1L88.1 898.1 90.6 897.9 91.6 897.7 92.6 897.2 94.1 896.3 94.6 896.1 95.1 896.1 95.6 896.2 97.6 897.3 98.6 897.6 100.1 897.7 101.6 897.5 102.6 897 103.6 896.3 104.6 895.2 106.1 893.5 106.6 893.1 107.1 893 107.6 893 108.1 893.3 109.1 894.2 110.1 895.2 110.6 895.5 111.1 895.7 111.6 895.8 113.6 895.6 114.1 895.7 115.1 896.2 116.6 897.1 117.6 897.3 119.1 897.4 121.1 897.1 122.1 896.7 122.6 896.4 123.1 895.8 123.6 894.9 124.1 893.6 124.6 891.5 125.1 888.7 125.6 885 126.1 880.6 126.6 875.9 127.1 871.5 127.6 868.4 128.1 867.4 128.6 869 129.1 872.5 129.6 877 130.1 881.7 130.6 885.9 131.1 889.3 131.6 891.9 132.1 893.7 132.6 894.9 133.1 895.7 133.6 896.1 134.1 896.4 135.1 896.7 137.1 896.8 139.1 896.6 140.6 896.2 142.1 895.5 143.1 894.8 143.6 894.3 144.1 893.7 144.6 892.7 145.1 891.3 145.6 889 146.1 885.2 146.6 879.1 147.1 869.8 147.6 856.5 148.1 838.8 148.6 817.8 149.1 795.5 149.6 776.1 150.1 764.6 150.6 765.2 151.1 777.8 151.6 797.8 152.1 820.1 152.6 840.9 153.1 858.1 153.6 871 154.1 880 154.6 885.8 155.1 889.4 155.6 891.6 156.1 893 156.6 893.9 157.1 894.6 158.1 895.5 159.1 896.1 160.6 896.7 162.1 897 163.6 897 165.6 896.8 166.6 897 169.1 897.8 171.1 898.1 179.6 898.4 186.1 898.4 188.1 898.2 190.1 897.8 191.1 897.8 193.6 898.4 196.1 898.6 204.6 898.5 206.6 898.3 208.1 897.8 209.6 896.9 211.1 896 211.6 895.8 212.1 895.7 212.6 895.8 213.6 896.2 215.6 897.5 217.1 898.2 218.6 898.4 221.6 898.5 223.1 898.3 224.1 898 224.6 897.7 225.1 897.3 225.6 896.7 227.1 894.7 227.6 894.2 228.1 894.1 228.6 894.3 229.1 894.8 230.6 896.8 231.1 897.3 231.6 897.7 232.6 898.1 234.1 898.2 236.6 898.1 238.1 897.7 238.6 897.5 239.1 897.1 239.6 896.5 240.1 895.6 240.6 894.2 241.1 892.1 241.6 889.2 242.1 885.6 242.6 881.4 243.1 877 243.6 873.2 244.1 870.8 244.6 870.6 245.1 872.7 245.6 876.3 246.6 884.9 247.1 888.7 247.6 891.7 248.1 893.9 248.6 895.4 249.1 896.4 249.6 897.1 250.1 897.5 251.1 897.9 253.1 898.3 255.6 898.5 257.1 898.4 258.1 898.1 259.1 897.5 260.6 896.4 261.1 896.2 261.6 896.3 262.1 896.4 263.6 897.4 264.1 897.5 264.6 897.5 265.1 897.3 266.6 896.3 267.1 896.2 267.6 896.3 269.1 897.4 269.6 897.6 270.1 897.6 270.6 897.4 271.1 896.9 272.1 895.8 272.6 895.4 273.1 895.3 273.6 895.7 274.6 896.8 275.1 897.3 275.6 897.6 276.1 897.7 276.6 897.5 277.1 897.1 278.1 895.9 278.6 895.5 279.1 895.4 279.6 895.7 281.1 897.5 281.6 898 282.1 898.4 283.1 898.7 285.6 898.9 293.1 898.9 295.6 898.7 296.6 898.4 297.6 897.8 298.6 897 299.6 896 300.1 895.7 300.6 895.7 301.1 895.8 302.6 896.7 303.1 896.8 303.6 896.6 304.1 896.2 304.6 895.4 305.1 894.2 305.6 892.5 306.1 890.6 307.1 886.4 307.6 884.8 308.1 884 308.6 884.3 309.1 885.6 309.6 887.5 310.6 891.7 311.1 893.5 311.6 895 312.1 896.1 312.6 896.9 313.1 897.4 313.6 897.7 314.1 897.8 314.6 897.9 315.1 897.8 315.6 897.5 316.1 897.1 316.6 896.5 317.1 895.6 317.6 894.5 318.6 891.9 319.1 890.8 319.6 890.2 320.1 890.3 320.6 891 321.1 892.2 322.1 894.7 322.6 895.8 323.1 896.6 323.6 897.1 324.1 897.5 324.6 897.7 325.1 897.7 325.6 897.6 326.1 897.3 326.6 896.8 327.1 895.9 327.6 894.4 328.1 892.5 328.6 890.1 329.1 887.7 329.6 885.7 330.1 884.8 330.6 885.3 331.6 888.3 332.1 889.2 332.6 889.1 333.1 887.7 333.6 885 334.1 881.3 334.6 877.2 335.1 873.3 335.6 870.5 336.1 869.9 336.6 871.6 337.1 875.1 338.1 883.9 338.6 887.9 339.1 891.1 339.6 893.6 340.1 895.3 340.6 896.4 341.1 897.1 341.6 897.6 342.1 897.9 343.1 898.2 344.6 898.4 346.1 898.1 347.6 897.8 348.6 897.8 351.1 898.7 352.6 898.9 357.1 899 361.6 898.9 363.1 898.6 364.1 898.2 365.1 897.4 366.6 896 367.1 895.8 367.6 895.8 368.1 896 369.6 897.1 370.6 897.6 371.6 897.6 372.6 897.4 373.6 896.8 374.1 896.4 374.6 895.7 375.1 894.7 375.6 892.9 376.1 890 376.6 885.1 377.1 877.6 377.6 867.1 378.1 853.8 378.6 839 379.1 825.4 379.6 816.8 380.1 816.7 380.6 825.1 381.1 838.5 381.6 852.9 382.1 865.6 382.6 875.2 383.1 881.3 383.6 884.4 384.1 885.4 385.1 885.1 385.6 885.7 386.1 887.4 387.1 891.9 387.6 893.9 388.1 895.4 388.6 896.5 389.1 897.2 389.6 897.7 390.6 898.1 392.1 898.5 394.1 898.6 395.1 898.4 395.6 898.3 396.1 898 396.6 897.5 397.1 896.9 397.6 896.1 398.6 894.2 399.1 893.4 399.6 892.9 400.1 892.9 400.6 893.5 401.1 894.3 402.1 896.1 402.6 896.9 403.1 897.4 403.6 897.6 404.1 897.6 404.6 897.3 405.1 896.6 405.6 895.7 406.1 894.7 406.6 893.7 407.1 893.2 407.6 893.4 408.1 894 408.6 894.8 409.1 895.4 409.6 895.6 410.1 895.4 410.6 894.9 411.1 894.3 411.6 893.9 412.1 894 412.6 894.6 413.6 896.6 414.1 897.5 414.6 898.1 415.1 898.6 415.6 898.9 416.6 899.1 418.1 899.1 419.6 898.9 421.6 898.4 422.6 898.4 425.1 899 426.6 899 428.1 898.9 429.1 898.6 429.6 898.3 430.1 897.8 430.6 897.1 431.1 896 431.6 894.3 432.1 892 432.6 889 433.1 885.5 433.6 881.8 434.1 878.4 434.6 876 435.1 875.5 435.6 876.9 436.1 879.8 437.1 887.2 437.6 890.5 438.1 893.2 438.6 895.2 439.1 896.6 439.6 897.5 440.1 898.1 440.6 898.5 441.6 898.9 443.6 899.3 448.1 899.6 456.6 899.6 461.6 899.4 463.6 899.1 464.6 898.7 465.1 898.3 465.6 897.8 466.1 897.1 466.6 896 467.1 894.6 467.6 893 468.1 891 469.1 886.8 469.6 885 470.1 883.9 470.6 883.7 471.1 884.5 471.6 886 472.1 888 473.1 892.2 473.6 894 474.1 895.5 474.6 896.6 475.1 897.5 475.6 898.1 476.1 898.5 477.1 898.9 478.6 899.1 480.1 898.9 480.6 898.7 481.1 898.4 481.6 897.9 482.1 897.1 482.6 896 483.1 894.5 483.6 892.7 484.6 888.7 485.1 887.2 485.6 886.6 486.1 887.1 486.6 888.5 487.1 890.4 487.6 892.4 488.1 894.3 488.6 895.9 489.1 897.1 489.6 897.9 490.1 898.5 490.6 898.9 491.6 899.2 493.1 899.3 494.1 899.1 495.1 898.6 496.6 897.8 497.1 897.7 497.6 897.7 498.6 898.2 499.6 898.7 500.6 899 501.1 899.1 501.6 899 502.1 898.7 503.1 898 504.6 896.6 505.1 896.4 505.6 896.4 506.6 896.6 507.1 896.5 507.6 896.3 508.1 895.6 508.6 894.6 509.1 893.3 510.1 890.4 510.6 889.3 511.1 888.8 511.6 889 512.6 890 513.1 890.3 513.6 890.2 514.6 889.5 515.1 889.4 515.6 889.8 516.1 890.8 516.6 892.3 517.6 895.3 518.1 896.6 518.6 897.6 519.1 898.3 519.6 898.8 520.1 899.1 521.1 899.5 523.1 899.7 524.6 899.6 525.6 899.3 526.6 898.7 528.1 897.4 528.6 897.1 529.1 897 529.6 897.2 530.1 897.5 531.6 898.9 532.6 899.5 533.6 899.7 535.1 899.7 536.1 899.5 537.6 898.7 538.6 898.2 539.1 898.1 539.6 898.1 540.6 898.6 541.6 899.1 542.6 899.4 543.6 899.4 544.1 899.2 544.6 898.9 545.1 898.4 545.6 897.8 546.6 896.3 547.6 894.7 548.1 894.1 548.6 893.8 549.1 893.9 549.6 894.3 550.1 895 551.6 897.5 552.1 898.2 552.6 898.8 553.1 899.2 554.1 899.7 555.6 900 560.1 900.2 563.6 900.1 565.1 899.8 567.6 898.8 568.1 898.7 569.1 898.9 570.6 899.4 571.6 899.4 572.1 899.3 572.6 899 573.1 898.4 573.6 897.7 574.1 896.7 575.6 892.9 576.1 892.1 576.6 891.8 577.1 892.3 577.6 893.3 578.6 895.9 579.1 897.1 579.6 898 580.1 898.8 580.6 899.3 581.1 899.6 582.1 900 584.6 900.2 588.1 900.3 590.1 900 592.1 899.5 593.1 899.5 596.1 900.2 598.6 900.4 604.1 900.3 605.6 900.1 606.6 899.7 607.6 899 609.1 897.4 609.6 897 610.1 896.8 610.6 896.9 611.1 897.3 612.6 898.6 613.1 898.9 613.6 899.1 614.1 899.1 614.6 898.8 615.1 898.3 615.6 897.5 616.1 896.2 616.6 894.5 617.1 892.4 618.1 887.6 618.6 885.7 619.1 884.8 619.6 885.2 620.1 886.7 620.6 888.9 621.1 891.3 621.6 893.6 622.1 895.6 622.6 897.1 623.1 898.2 623.6 898.9 624.1 899.4 624.6 899.7 625.6 900 628.1 900.3 633.1 900.4 635.6 900.3 636.6 900.1 637.6 899.7 638.6 898.9 640.6 896.6 641.1 896.2 641.6 896 642.1 896.1 642.6 896.5 644.6 898.7 645.6 899.5 646.6 900 647.6 900.1 648.6 899.9 649.6 899.4 651.1 898.3 651.6 898.1 652.1 898 652.6 898.1 654.6 899.2 655.1 899.4 655.6 899.4 656.1 899.2 656.6 898.9 657.1 898.4 658.6 896.7 659.1 896.4 659.6 896.4 660.1 896.7 661.6 898.3 662.1 898.7 662.6 899 663.1 899.2 663.6 899.2 664.1 899 664.6 898.6 665.1 898 665.6 897.2 666.1 896 666.6 894.5 667.1 892.8 667.6 890.7 668.6 886.3 669.1 884.3 669.6 882.9 670.1 882.3 670.6 882.7 671.1 883.9 671.6 885.8 672.6 890.2 673.1 892.4 673.6 894.3 674.1 895.8 674.6 897.1 675.1 898 675.6 898.7 676.1 899.2 676.6 899.6 677.6 900 679.1 900.2 680.6 900.1 682.1 899.8 684.6 898.8 685.6 898.8 686.6 899 689.1 900.1 690.6 900.5 692.6 900.7 694.6 900.6 696.1 900.2 699.1 899 700.1 898.9 701.1 899.2 703.6 900.3 705.1 900.6 707.6 900.8 710.1 900.7 711.6 900.4 713.1 899.8 716.1 898.3 717.1 898.1 718.1 898.2 719.6 898.9 721.6 900 723.1 900.5 725.1 900.9 729.1 901 732.1 900.9 733.6 900.5 736.6 899.3 737.6 899.2 738.6 899.4 741.1 900.5 742.6 900.9 745.1 901.1 759.1 901.2 763.6 901.1 765.1 900.9 766.1 900.5 767.1 900 768.6 898.7 769.6 897.8 770.1 897.5 770.6 897.4 771.1 897.4 771.6 897.7 772.6 898.4 774.1 899.8 775.1 900.4 776.1 900.9 777.6 901.2 782.1 901.4 790.6 901.5" fill="none" stroke="#ff0000" stroke-width="2.7" stroke-linejoin="round" stroke-linecap="butt"/>
<path d="M67.6 1086.2L97.6 1086.1 100.6 1085.9 102.1 1085.7 103.6 1085.1 105.6 1084.3 106.6 1084.1 107.6 1084.3 110.1 1085.3 111.6 1085.7 114.1 1085.9 118.1 1085.7 120.6 1085.3 121.6 1084.9 122.1 1084.7 122.6 1084.2 123.1 1083.5 123.6 1082.3 124.1 1080.3 124.6 1077.3 125.1 1073.1 125.6 1067.7 126.1 1061.9 126.6 1056.6 127.1 1053.5 127.6 1053.7 128.1 1057.3 128.6 1062.7 129.1 1068.5 129.6 1073.6 130.1 1077.7 130.6 1080.5 131.1 1082.4 131.6 1083.5 132.1 1084.1 132.6 1084.5 133.6 1084.9 135.6 1085.1 138.1 1085 140.1 1084.6 141.6 1084.1 142.6 1083.5 143.1 1083.1 143.6 1082.5 144.1 1081.8 144.6 1080.7 145.1 1078.9 145.6 1075.5 146.1 1069.2 146.6 1058.2 147.1 1040.6 147.6 1016.3 148.1 987.8 148.6 962 149.1 949.2 149.6 956.8 150.1 980.2 150.6 1008.9 151.1 1034.8 151.6 1054.2 152.1 1066.9 152.6 1074.2 153.1 1078.2 153.6 1080.4 154.1 1081.7 154.6 1082.5 155.1 1083.1 156.1 1083.9 157.6 1084.7 159.6 1085.2 162.6 1085.7 168.6 1086 184.1 1086.3 204.6 1086.3 207.1 1086.2 208.1 1086 209.1 1085.6 210.1 1084.8 211.6 1083.2 212.1 1082.9 212.6 1082.9 213.1 1083.1 214.1 1084.1 215.1 1085.1 216.1 1085.7 217.1 1086.1 219.1 1086.2 222.1 1086.1 223.6 1085.8 226.1 1084.4 226.6 1084.3 227.1 1084.4 228.1 1084.9 229.6 1085.7 231.1 1086.1 233.6 1086.1 236.6 1085.9 238.1 1085.5 238.6 1085.2 239.1 1084.8 239.6 1083.9 240.1 1082.6 240.6 1080.4 241.1 1077.4 241.6 1073.5 242.1 1069.3 242.6 1065.6 243.1 1063.6 243.6 1064.2 244.1 1067.2 245.1 1075.4 245.6 1078.9 246.1 1081.5 246.6 1083.3 247.1 1084.4 247.6 1085 248.1 1085.4 249.1 1085.8 251.6 1086.1 257.1 1086.3 260.6 1086.2 262.1 1086 263.1 1085.6 265.1 1084.5 265.6 1084.3 266.1 1084.4 268.1 1085.1 268.6 1085.2 269.6 1084.9 271.1 1084.3 271.6 1084.3 272.1 1084.4 273.6 1085.1 274.1 1085.3 274.6 1085.3 275.1 1085.2 275.6 1084.8 276.1 1084.1 276.6 1083.3 277.6 1081.4 278.1 1080.9 278.6 1081 279.1 1081.7 280.1 1083.7 280.6 1084.6 281.1 1085.2 281.6 1085.7 282.1 1086 283.1 1086.2 287.1 1086.4 297.6 1086.4 301.1 1086.2 302.1 1086 303.1 1085.6 303.6 1085.2 304.1 1084.6 304.6 1083.8 305.1 1082.8 306.1 1080.7 306.6 1079.9 307.1 1079.5 307.6 1079.6 308.1 1080.3 309.6 1083.4 310.1 1084.2 310.6 1084.8 311.1 1085.3 311.6 1085.6 312.6 1085.9 314.1 1085.9 315.1 1085.7 315.6 1085.5 316.1 1085.2 316.6 1084.7 318.1 1082.9 318.6 1082.4 319.1 1082.2 319.6 1082.3 320.1 1082.6 321.6 1084.3 322.1 1084.7 322.6 1085 323.1 1085.3 324.1 1085.4 325.1 1085.2 325.6 1085 326.1 1084.6 326.6 1083.9 327.1 1082.9 327.6 1081.3 328.1 1079.1 328.6 1076.5 329.1 1073.7 329.6 1071.3 330.1 1069.9 330.6 1069.9 331.1 1070.5 331.6 1070.8 332.1 1070 332.6 1067.8 333.1 1064 333.6 1059.3 334.1 1054.4 334.6 1050.6 335.1 1049.1 335.6 1050.5 336.1 1054.5 336.6 1059.9 337.1 1065.6 337.6 1070.9 338.1 1075.3 338.6 1078.6 339.1 1081 339.6 1082.6 340.1 1083.7 340.6 1084.4 341.1 1084.8 342.1 1085.2 343.6 1085.5 344.6 1085.5 345.6 1085.2 347.6 1084.2 348.1 1084.2 348.6 1084.3 349.6 1084.8 351.1 1085.7 352.1 1086 354.1 1086.2 360.1 1086.2 362.6 1086 363.6 1085.7 364.6 1085.2 366.1 1084.2 366.6 1084 367.1 1083.9 367.6 1083.9 369.6 1084.7 370.6 1084.8 371.6 1084.5 372.6 1084 373.1 1083.5 373.6 1082.9 374.1 1082.1 374.6 1080.6 375.1 1077.9 375.6 1073 376.1 1064.3 376.6 1050.3 377.1 1030.8 377.6 1007.8 378.1 986.5 378.6 975.4 379.1 980.6 379.6 998.9 380.1 1021.8 380.6 1042.4 381.1 1057.6 381.6 1066.7 382.1 1070.8 382.6 1071.4 383.1 1069.9 383.6 1067.6 384.1 1065.9 384.6 1065.8 385.1 1067.7 385.6 1071 386.1 1074.6 386.6 1077.9 387.1 1080.5 387.6 1082.4 388.1 1083.6 388.6 1084.3 389.1 1084.8 390.1 1085.3 391.6 1085.7 393.6 1085.8 394.6 1085.7 395.6 1085.3 396.6 1084.5 398.1 1083.1 398.6 1082.8 399.1 1082.9 399.6 1083.2 401.1 1084.7 401.6 1085.1 402.1 1085.3 402.6 1085.4 403.1 1085.3 403.6 1085 404.1 1084.5 405.1 1083.1 405.6 1082.5 406.1 1082.4 406.6 1082.6 407.6 1083.8 408.1 1084.2 408.6 1084.4 409.1 1084.3 409.6 1084 410.6 1083.1 411.1 1082.9 411.6 1083.2 412.1 1083.7 413.1 1085 413.6 1085.5 414.1 1085.9 415.1 1086.3 417.1 1086.5 423.1 1086.5 426.6 1086.2 428.1 1085.9 429.1 1085.5 429.6 1085 430.1 1084.3 430.6 1082.9 431.1 1080.8 431.6 1077.6 432.1 1073.3 433.1 1063.1 433.6 1059.5 434.1 1058.6 434.6 1061 435.1 1065.6 435.6 1070.8 436.1 1075.6 436.6 1079.4 437.1 1082 437.6 1083.7 438.1 1084.7 438.6 1085.3 439.1 1085.7 440.1 1086 442.6 1086.4 448.1 1086.7 459.1 1086.7 463.1 1086.5 464.6 1086.2 465.1 1086 465.6 1085.6 466.1 1085.1 466.6 1084.4 467.1 1083.5 468.6 1080.2 469.1 1079.4 469.6 1078.9 470.1 1079.1 470.6 1079.8 471.1 1080.8 472.1 1083 472.6 1084 473.1 1084.7 473.6 1085.3 474.1 1085.7 474.6 1086 475.6 1086.3 477.6 1086.4 479.6 1086.2 480.1 1086.1 480.6 1085.8 481.1 1085.4 481.6 1084.7 482.1 1083.6 482.6 1082 483.1 1080 483.6 1077.6 484.1 1075.4 484.6 1073.9 485.1 1073.8 485.6 1074.9 486.1 1077 486.6 1079.4 487.1 1081.5 487.6 1083.2 488.1 1084.5 488.6 1085.3 489.1 1085.8 489.6 1086.1 490.6 1086.4 493.6 1086.6 499.6 1086.6 502.6 1086.4 503.6 1086.2 504.6 1085.6 505.1 1085.2 505.6 1084.7 506.1 1084 506.6 1083.1 507.1 1082.1 508.6 1078.4 509.1 1077.3 509.6 1076.5 510.1 1076.1 510.6 1076.2 511.1 1076.8 511.6 1077.8 513.1 1081.4 513.6 1082.6 514.1 1083.5 514.6 1084.3 515.1 1085 515.6 1085.5 516.1 1085.8 517.1 1086.3 518.6 1086.6 522.6 1086.7 524.6 1086.7 526.1 1086.3 528.1 1085.2 528.6 1085 529.1 1084.9 529.6 1085 532.1 1086.4 533.6 1086.7 536.6 1086.9 541.1 1086.7 542.6 1086.5 543.1 1086.3 543.6 1086 544.1 1085.5 544.6 1084.8 545.1 1083.9 545.6 1082.7 546.6 1079.9 547.1 1078.6 547.6 1077.9 548.1 1077.8 548.6 1078.5 549.1 1079.8 550.1 1082.6 550.6 1083.8 551.1 1084.7 551.6 1085.5 552.1 1086 552.6 1086.3 553.6 1086.6 556.1 1086.9 564.1 1087 569.1 1086.8 570.6 1086.6 571.1 1086.4 571.6 1086.1 572.1 1085.6 572.6 1084.9 573.1 1083.9 574.1 1081.6 574.6 1080.5 575.1 1079.8 575.6 1079.8 576.1 1080.4 576.6 1081.5 577.6 1083.9 578.1 1084.8 578.6 1085.6 579.1 1086.1 579.6 1086.4 580.6 1086.8 583.1 1087 594.6 1087.1 604.1 1087 606.1 1086.8 607.1 1086.5 609.6 1085 610.1 1084.9 610.6 1085 612.6 1085.8 613.1 1085.9 613.6 1085.8 614.1 1085.6 614.6 1084.9 615.1 1083.8 615.6 1082 616.1 1079.3 616.6 1076 617.1 1072.5 617.6 1069.7 618.1 1068.7 618.6 1070 619.1 1073 619.6 1076.6 620.1 1079.8 620.6 1082.4 621.1 1084.2 621.6 1085.3 622.1 1085.9 622.6 1086.3 623.6 1086.6 626.1 1086.9 632.1 1087.1 635.6 1087 636.6 1086.8 637.6 1086.4 639.6 1085 640.1 1084.7 640.6 1084.7 641.1 1084.8 642.1 1085.5 643.1 1086.2 644.1 1086.6 645.1 1086.8 646.6 1086.8 647.6 1086.4 648.1 1086.1 648.6 1085.7 649.6 1084.6 650.6 1083.5 651.1 1083.1 651.6 1083.1 652.1 1083.4 653.6 1085.1 654.1 1085.5 654.6 1085.8 655.1 1085.9 655.6 1085.7 656.1 1085.4 656.6 1084.7 657.6 1083 658.1 1082.3 658.6 1082 659.1 1082.3 659.6 1083.1 660.6 1084.8 661.1 1085.5 661.6 1086 662.1 1086.3 662.6 1086.4 663.6 1086.4 664.1 1086.2 664.6 1086 665.1 1085.5 665.6 1085 666.1 1084.2 666.6 1083.2 667.6 1080.9 668.1 1079.7 668.6 1078.7 669.1 1078.1 669.6 1078 670.1 1078.5 670.6 1079.4 672.1 1082.9 672.6 1084 673.1 1084.8 673.6 1085.5 674.1 1086 674.6 1086.3 675.6 1086.7 677.6 1087 684.6 1087.2 692.6 1087.2 694.6 1087 696.1 1086.7 699.1 1085.4 700.1 1085.4 701.1 1085.6 703.6 1086.7 705.1 1087 707.1 1087.2 709.6 1087 711.6 1086.5 714.6 1085.5 715.6 1085.4 716.6 1085.5 718.6 1086.1 720.6 1086.8 722.6 1087.1 726.1 1087.3 730.1 1087.2 731.6 1087 733.1 1086.4 735.1 1085.6 736.1 1085.4 737.1 1085.7 739.6 1086.7 741.1 1087.1 743.6 1087.4 759.1 1087.4 764.1 1087.3 765.6 1087.1 766.6 1086.7 767.6 1086.1 769.6 1084.1 770.1 1083.7 770.6 1083.6 771.1 1083.6 771.6 1083.9 772.6 1084.9 773.6 1085.9 774.6 1086.6 775.6 1087.1 777.1 1087.3 783.1 1087.5 790.6 1087.6" fill="none" stroke="#808080" stroke-width="2.7" stroke-linejoin="round" stroke-linecap="butt"/>
<path d="M67.4 189.2H791M67.4 373.5H791M67.4 557.9H791M67.4 742.3H791M67.4 926.6H791" fill="none" stroke="#000" stroke-width="2.6"/>
<rect x="67.4" y="4.8" width="723.6" height="1106.2" fill="none" stroke="#000" stroke-width="2.6"/>
<text x="142.74" y="219.96" font-family='"Liberation Sans", Arial, Helvetica, sans-serif' font-size="31" font-weight="bold">*</text>
<text x="372.44" y="245.96" font-family='"Liberation Sans", Arial, Helvetica, sans-serif' font-size="31" font-weight="bold">*</text>
<text x="329.14" y="313.16" font-family='"Liberation Sans", Arial, Helvetica, sans-serif' font-size="31" font-weight="bold">*</text>
<text x="611.24" y="340.96" font-family='"Liberation Sans", Arial, Helvetica, sans-serif' font-size="31" font-weight="bold">*</text>
<text x="145.94" y="400.36" font-family='"Liberation Sans", Arial, Helvetica, sans-serif' font-size="31" font-weight="bold">*</text>
<text x="375.24" y="404.96" font-family='"Liberation Sans", Arial, Helvetica, sans-serif' font-size="31" font-weight="bold">*</text>
<text x="330.54" y="466.86" font-family='"Liberation Sans", Arial, Helvetica, sans-serif' font-size="31" font-weight="bold">*</text>
<text x="612.84" y="521.36" font-family='"Liberation Sans", Arial, Helvetica, sans-serif' font-size="31" font-weight="bold">*</text>
<text x="144.34" y="585.36" font-family='"Liberation Sans", Arial, Helvetica, sans-serif' font-size="31" font-weight="bold">*</text>
<text x="372.74" y="640.26" font-family='"Liberation Sans", Arial, Helvetica, sans-serif' font-size="31" font-weight="bold">*</text>
<text x="330.54" y="699.36" font-family='"Liberation Sans", Arial, Helvetica, sans-serif' font-size="31" font-weight="bold">*</text>
<text x="612.84" y="706.36" font-family='"Liberation Sans", Arial, Helvetica, sans-serif' font-size="31" font-weight="bold">*</text>
<text x="144.34" y="769.96" font-family='"Liberation Sans", Arial, Helvetica, sans-serif' font-size="31" font-weight="bold">*</text>
<text x="374.34" y="816.96" font-family='"Liberation Sans", Arial, Helvetica, sans-serif' font-size="31" font-weight="bold">*</text>
<text x="330.74" y="874.26" font-family='"Liberation Sans", Arial, Helvetica, sans-serif' font-size="31" font-weight="bold">*</text>
<text x="612.84" y="891.16" font-family='"Liberation Sans", Arial, Helvetica, sans-serif' font-size="31" font-weight="bold">*</text>
<text x="143.24" y="953.96" font-family='"Liberation Sans", Arial, Helvetica, sans-serif' font-size="31" font-weight="bold">*</text>
<text x="372.74" y="980.56" font-family='"Liberation Sans", Arial, Helvetica, sans-serif' font-size="31" font-weight="bold">*</text>
<text x="329.14" y="1046.26" font-family='"Liberation Sans", Arial, Helvetica, sans-serif' font-size="31" font-weight="bold">*</text>
<text x="611.24" y="1075.16" font-family='"Liberation Sans", Arial, Helvetica, sans-serif' font-size="31" font-weight="bold">*</text>
<text x="600.33" y="965.96" font-family='"Liberation Sans", Arial, Helvetica, sans-serif' font-size="30" font-weight="bold">*</text>
<text x="618.53" y="961.3" font-family='"Liberation Sans", Arial, Helvetica, sans-serif' font-size="19" font-weight="bold">MAI:PbCl<tspan font-size="11.78" dy="4.18">2</tspan><tspan dy="-4.18"> in DMF</tspan></text>
<text x="49.88" y="1149.8" font-family='"Liberation Sans", Arial, Helvetica, sans-serif' font-size="31" font-weight="normal" fill="#000">10</text>
<text x="122.29" y="1149.8" font-family='"Liberation Sans", Arial, Helvetica, sans-serif' font-size="31" font-weight="normal" fill="#000">15</text>
<text x="195.01" y="1149.8" font-family='"Liberation Sans", Arial, Helvetica, sans-serif' font-size="31" font-weight="normal" fill="#000">20</text>
<text x="267.41" y="1149.8" font-family='"Liberation Sans", Arial, Helvetica, sans-serif' font-size="31" font-weight="normal" fill="#000">25</text>
<text x="339.91" y="1149.8" font-family='"Liberation Sans", Arial, Helvetica, sans-serif' font-size="31" font-weight="normal" fill="#000">30</text>
<text x="412.32" y="1149.8" font-family='"Liberation Sans", Arial, Helvetica, sans-serif' font-size="31" font-weight="normal" fill="#000">35</text>
<text x="484.87" y="1149.8" font-family='"Liberation Sans", Arial, Helvetica, sans-serif' font-size="31" font-weight="normal" fill="#000">40</text>
<text x="557.27" y="1149.8" font-family='"Liberation Sans", Arial, Helvetica, sans-serif' font-size="31" font-weight="normal" fill="#000">45</text>
<text x="629.32" y="1149.8" font-family='"Liberation Sans", Arial, Helvetica, sans-serif' font-size="31" font-weight="normal" fill="#000">50</text>
<text x="701.73" y="1149.8" font-family='"Liberation Sans", Arial, Helvetica, sans-serif' font-size="31" font-weight="normal" fill="#000">55</text>
<text x="773.88" y="1149.8" font-family='"Liberation Sans", Arial, Helvetica, sans-serif' font-size="31" font-weight="normal" fill="#000">60</text>
<g transform="translate(385.8 1210.8) scale(1.0 1)" font-size="37.8" fill="#000"><text class="hv" x="-1.9" y="0" font-family='"Liberation Sans", Arial, Helvetica, sans-serif'>2</text><text transform="translate(22.61 0) scale(1.223 1)" font-family='"Liberation Serif", "Times New Roman", Times, serif' font-style="italic" font-size="36.67">θ</text><text class="hv" x="48.04" y="0" font-family='"Liberation Sans", Arial, Helvetica, sans-serif'>(°)</text></g>
<text class="hv" font-family='"Liberation Sans", Arial, Helvetica, sans-serif' font-size="36.3" font-weight="normal" fill="#000" transform="translate(40.9 691.24) rotate(-90) scale(1.026 1.0)">Intensity (a.u.)</text>
<text x="-0.3" y="63.2" font-family='"Liberation Serif", "Times New Roman", Times, serif' font-size="50.3">(a)</text>
<text font-family='"Liberation Sans", Arial, Helvetica, sans-serif' font-size="30" font-weight="bold" fill="#000" transform="translate(830.3 134.86) rotate(-90) scale(0.94 1.07)">rGO</text>
<text font-family='"Liberation Sans", Arial, Helvetica, sans-serif' font-size="30" font-weight="bold" fill="#9933ff" transform="translate(833.4 337.57) rotate(-90) scale(1.0 1.1)">10-rGO</text>
<text font-family='"Liberation Sans", Arial, Helvetica, sans-serif' font-size="30" font-weight="bold" fill="#0a8a0a" transform="translate(833.4 512.7) rotate(-90) scale(1.0 1.1)">9-rGO</text>
<text font-family='"Liberation Sans", Arial, Helvetica, sans-serif' font-size="30" font-weight="bold" fill="#0000ff" transform="translate(833.4 696.56) rotate(-90) scale(1.0 1.1)">8-rGO</text>
<text font-family='"Liberation Sans", Arial, Helvetica, sans-serif' font-size="30" font-weight="bold" fill="#ff0000" transform="translate(833.4 881.42) rotate(-90) scale(1.0 1.1)">7-rGO</text>
<text font-family='"Liberation Sans", Arial, Helvetica, sans-serif' font-size="30" font-weight="bold" fill="#404040" transform="translate(832.9 1095.73) rotate(-90) scale(1.014 1.094)">MAI: PbCl<tspan font-size="20.5" dy="7">2</tspan></text>
</g>
<g id="panel-b">
<rect x="974.2" y="275.7" width="720.8" height="843.8" fill="#e2f8c4"/>
<path d="M1154.4 443.9v-12.5M1334.6 443.9v-12.5M1514.8 443.9v-12.5M1064.3 443.9v-6.3M1244.5 443.9v-6.3M1424.7 443.9v-6.3M1604.9 443.9v-6.3M1154.4 613.3v-12.5M1334.6 613.3v-12.5M1514.8 613.3v-12.5M1064.3 613.3v-6.3M1244.5 613.3v-6.3M1424.7 613.3v-6.3M1604.9 613.3v-6.3M1154.4 779.4v-12.5M1334.6 779.4v-12.5M1514.8 779.4v-12.5M1064.3 779.4v-6.3M1244.5 779.4v-6.3M1424.7 779.4v-6.3M1604.9 779.4v-6.3M1154.4 950.3v-12.5M1334.6 950.3v-12.5M1514.8 950.3v-12.5M1064.3 950.3v-6.3M1244.5 950.3v-6.3M1424.7 950.3v-6.3M1604.9 950.3v-6.3M1154.4 1119.5v-12.5M1334.6 1119.5v-12.5M1514.8 1119.5v-12.5M1064.3 1119.5v-6.3M1244.5 1119.5v-6.3M1424.7 1119.5v-6.3M1604.9 1119.5v-6.3" fill="none" stroke="#000" stroke-width="2.9"/>
<path d="M974.5 421.9L1061.5 420.9 1154.5 419.3 1165 418.9 1169.5 418.4 1175.5 417.3 1180 416.3 1184.5 414.9 1189 413.1 1192 411.5 1195 409.5 1196.5 408.3 1198 407 1199.5 405.6 1201 403.9 1202.5 401.9 1204 399.8 1205.5 397.3 1207 394.6 1208.5 391.5 1210 388.2 1211.5 384.8 1213 381.2 1214.5 377.5 1217.5 369.7 1222 357.7 1225 349.9 1226.5 346.2 1228 342.6 1229.5 339.1 1231 335.9 1232.5 332.9 1234 330.2 1235.5 327.8 1237 325.6 1238.5 323.8 1240 322.2 1241.5 320.9 1243 319.9 1244.5 319 1246 318.4 1247.5 318 1249 317.9 1250.5 318.1 1252 318.5 1253.5 319.1 1255 319.9 1258 321.7 1265.5 326.9 1268.5 328.8 1274.5 331.9 1280.5 335 1282 336 1283.5 337.3 1285 339.1 1286.5 341.3 1288 344 1289.5 346.9 1291 350.1 1292.5 353.5 1295.5 360.8 1301.5 375.8 1303 379.4 1304.5 382.9 1306 386.3 1307.5 389.5 1309 392.6 1310.5 395.6 1312 398.3 1313.5 401 1315 403.4 1316.5 405.6 1318 407.5 1319.5 409.3 1321 410.8 1322.5 412.1 1324 413.3 1325.5 414.2 1327 415 1328.5 415.6 1330 416.1 1333 416.7 1339 417.3 1349.5 417.9 1369 418.7 1397.5 420.2 1427.5 421.3 1444 421.5 1519 421.4 1537 420.8 1546 420.9 1568.5 421.9 1580.5 421.9 1607.5 421.5 1621 421.8 1633 421.9 1694.5 421.9" fill="none" stroke="#9933ff" stroke-width="3.0" stroke-linejoin="round" stroke-linecap="butt"/>
<path d="M974.5 589.6L1049.5 588.9 1075 588.4 1094.5 587.6 1103.5 587 1114 585.7 1130.5 583.2 1138 581.7 1142.5 580.5 1147 578.9 1153 576.1 1162 571.6 1168 568.2 1172.5 565.3 1175.5 563.1 1178.5 560.4 1195 544.7 1199.5 540.7 1204 537.2 1208.5 534.3 1213 531.8 1217.5 529.8 1223.5 527.4 1226.5 526.6 1229.5 526.1 1240 525.8 1241.5 525.7 1243 525.4 1244.5 524.9 1247.5 523.6 1249 522.8 1250.5 521.7 1252 520.5 1259.5 513.6 1261 512.4 1262.5 511.2 1264 510.3 1265.5 509.5 1267 508.9 1268.5 508.5 1270 508.3 1271.5 508.3 1273 508.7 1274.5 509.3 1276 510.3 1277.5 511.7 1279 513.5 1280.5 515.8 1282 518.3 1285 523.8 1288 529.8 1295.5 545.1 1298.5 550.9 1301.5 556.2 1303 558.7 1304.5 561 1306 563.2 1307.5 565.2 1309 567 1310.5 568.7 1312 570.2 1313.5 571.5 1316.5 573.7 1319.5 575.6 1324 578 1328.5 580 1334.5 582.1 1339 583.4 1345 584.8 1351 585.8 1357 586.5 1370.5 587.4 1393 588.2 1421.5 588.8 1451.5 588.9 1499.5 588.9 1519 588.3 1577.5 586 1591 585.7 1604.5 585.9 1631.5 586.9 1675 589.1 1694.5 589.4" fill="none" stroke="#0a8a0a" stroke-width="3.0" stroke-linejoin="round" stroke-linecap="butt"/>
<path d="M974.5 758.7L1046.5 758.3 1114 757.5 1130.5 757 1142.5 756.2 1150 755.4 1156 754.3 1159 753.5 1162 752.4 1166.5 750.3 1169.5 748.6 1172.5 746.6 1175.5 744.1 1177 742.6 1178.5 741 1180 739.3 1181.5 737.3 1183 735.1 1184.5 732.7 1186 730 1187.5 726.9 1189 723.5 1190.5 719.7 1192 715.6 1193.5 711.2 1195 706.5 1196.5 701.5 1198 696 1199.5 690.3 1202.5 678.5 1204 672.9 1205.5 667.7 1207 663.1 1208.5 659.2 1210 656 1211.5 653.7 1213 652.3 1214.5 652 1216 652.5 1217.5 654 1219 656.5 1220.5 660 1222 664.4 1223.5 669.4 1226.5 680.1 1232.5 702 1234 707.4 1235.5 712.5 1237 717.3 1238.5 721.7 1240 725.8 1241.5 729.6 1243 733.1 1244.5 736.3 1246 739.2 1247.5 741.7 1249 743.9 1250.5 745.7 1252 747.3 1253.5 748.6 1255 749.8 1256.5 750.8 1259.5 752.5 1262.5 753.9 1265.5 754.8 1270 755.7 1274.5 756.4 1280.5 756.7 1307.5 757.3 1360 758.1 1397.5 758.6 1511.5 758.9 1657 759.2 1694.5 759.3" fill="none" stroke="#0000ff" stroke-width="3.0" stroke-linejoin="round" stroke-linecap="butt"/>
<path d="M974.5 927.6L1069 927 1121.5 926.4 1142.5 925.8 1154.5 925.1 1160.5 924.5 1165 923.8 1168 923.1 1171 922.1 1174 920.7 1177 918.9 1180 916.8 1183 914.3 1186 911.4 1189 908.2 1192 904.6 1196.5 898.6 1199.5 894.3 1204 887.5 1208.5 880.3 1214.5 870.5 1219 863.5 1220.5 861.3 1222 859.3 1223.5 857.5 1225 855.9 1226.5 854.6 1228 853.5 1229.5 852.7 1231 852.2 1232.5 851.9 1234 851.9 1235.5 852.3 1237 853.1 1238.5 854.1 1240 855.5 1241.5 857.3 1243 859.4 1244.5 861.7 1246 864.2 1249 869.6 1256.5 883.6 1261 891.6 1264 896.6 1265.5 899 1268.5 903.3 1271.5 907.2 1273 908.9 1274.5 910.5 1276 912 1279 914.6 1282 916.8 1285 918.6 1289.5 920.7 1292.5 921.9 1295.5 922.8 1300 923.8 1304.5 924.5 1310.5 925 1325.5 925.7 1363 926.6 1396 927.2 1499.5 927.4 1694.5 927.4" fill="none" stroke="#ff0000" stroke-width="3.0" stroke-linejoin="round" stroke-linecap="butt"/>
<path d="M974.5 1096.5L1043.5 1095.7 1094.5 1095.2 1121.5 1094.6 1139.5 1093.9 1147 1093.2 1151.5 1092.7 1154.5 1091.9 1156 1091.4 1159 1089.9 1160.5 1089.1 1162 1088 1163.5 1086.9 1165 1085.5 1166.5 1083.9 1168 1082.1 1169.5 1080.1 1171 1077.9 1172.5 1075.5 1174 1072.8 1175.5 1069.8 1177 1066.4 1178.5 1062.7 1180 1058.6 1181.5 1054.3 1183 1049.8 1184.5 1045.1 1186 1040.1 1189 1029.8 1192 1019.2 1196.5 1003 1198 997.7 1199.5 992.6 1201 987.8 1202.5 983.5 1204 980.2 1205.5 978.1 1207 977.2 1208.5 977.4 1210 978.6 1211.5 980.9 1213 984.2 1214.5 988.5 1216 993.3 1217.5 998.5 1222 1014.7 1226.5 1031.1 1228 1036.4 1229.5 1041.6 1231 1046.6 1232.5 1051.4 1234 1055.9 1235.5 1060.1 1237 1064 1238.5 1067.6 1240 1070.9 1241.5 1074 1243 1076.8 1244.5 1079.4 1246 1081.7 1247.5 1083.5 1249 1085.1 1250.5 1086.4 1252 1087.5 1253.5 1088.5 1255 1089.4 1258 1090.6 1262.5 1091.9 1267 1092.8 1273 1093.5 1283.5 1094.1 1304.5 1094.8 1328.5 1095.3 1549 1095.7 1694.5 1096" fill="none" stroke="#808080" stroke-width="3.0" stroke-linejoin="round" stroke-linecap="butt"/>
<path d="M974.2 443.9H1695M974.2 613.3H1695M974.2 779.4H1695M974.2 950.3H1695" fill="none" stroke="#000" stroke-width="3.0"/>
<rect x="974.2" y="275.7" width="720.8" height="843.8" fill="none" stroke="#000" stroke-width="3.0"/>
<path d="M1209.9 274.4L1207.1 1122" stroke="#000" stroke-width="4.0" stroke-dasharray="4.6 14.1" stroke-dashoffset="0" fill="none"/>
<path d="M1266 302.1V333.9" stroke="#000" stroke-width="3.8" fill="none"/>
<path d="M1273 491.1V523.1" stroke="#000" stroke-width="3.8" fill="none"/>
<path d="M1216.2 644.9V676.9" stroke="#000" stroke-width="3.8" fill="none"/>
<path d="M1233.6 835.6V867.4" stroke="#000" stroke-width="3.8" fill="none"/>
<path d="M1208.5 966.7V996.8" stroke="#000" stroke-width="3.8" fill="none"/>
<text x="1259.94" y="305.76" font-family='"Liberation Sans", Arial, Helvetica, sans-serif' font-size="31" font-weight="bold">*</text>
<text x="1269.74" y="491.96" font-family='"Liberation Sans", Arial, Helvetica, sans-serif' font-size="31" font-weight="bold">*</text>
<text x="1211.94" y="649.26" font-family='"Liberation Sans", Arial, Helvetica, sans-serif' font-size="31" font-weight="bold">*</text>
<text x="1227.54" y="842.06" font-family='"Liberation Sans", Arial, Helvetica, sans-serif' font-size="31" font-weight="bold">*</text>
<text x="1201.54" y="978.46" font-family='"Liberation Sans", Arial, Helvetica, sans-serif' font-size="31" font-weight="bold">*</text>
<text x="1504.33" y="987.86" font-family='"Liberation Sans", Arial, Helvetica, sans-serif' font-size="30" font-weight="bold">*</text>
<text x="1523.13" y="983" font-family='"Liberation Sans", Arial, Helvetica, sans-serif' font-size="19" font-weight="bold">MAI:PbCl<tspan font-size="11.78" dy="4.18">2</tspan><tspan dy="-4.18"> in DMF</tspan></text>
<text x="945.91" y="1155.2" font-family='"Liberation Sans", Arial, Helvetica, sans-serif' font-size="28.4" font-weight="normal" fill="#000" letter-spacing="0.75">15.0</text>
<text x="1126.15" y="1155.2" font-family='"Liberation Sans", Arial, Helvetica, sans-serif' font-size="28.4" font-weight="normal" fill="#000" letter-spacing="0.75">15.5</text>
<text x="1306.31" y="1155.2" font-family='"Liberation Sans", Arial, Helvetica, sans-serif' font-size="28.4" font-weight="normal" fill="#000" letter-spacing="0.75">16.0</text>
<text x="1486.55" y="1155.2" font-family='"Liberation Sans", Arial, Helvetica, sans-serif' font-size="28.4" font-weight="normal" fill="#000" letter-spacing="0.75">16.5</text>
<text x="1666.71" y="1155.2" font-family='"Liberation Sans", Arial, Helvetica, sans-serif' font-size="28.4" font-weight="normal" fill="#000" letter-spacing="0.75">17.0</text>
<g transform="translate(1290.8 1211) scale(1.11 1)" font-size="33.7" fill="#000"><text class="hv" x="-1.69" y="0" font-family='"Liberation Sans", Arial, Helvetica, sans-serif'>2</text><text transform="translate(20.16 0) scale(1.223 1)" font-family='"Liberation Serif", "Times New Roman", Times, serif' font-style="italic" font-size="32.69">θ</text><text class="hv" x="42.83" y="0" font-family='"Liberation Sans", Arial, Helvetica, sans-serif'>(°)</text></g>
<text class="hv" font-family='"Liberation Sans", Arial, Helvetica, sans-serif' font-size="33.7" font-weight="normal" fill="#000" transform="translate(947.9 735.01) rotate(-90) scale(1.0 1.064)">Intensity (a.u.)</text>
<text x="897.1" y="347.6" font-family='"Liberation Serif", "Times New Roman", Times, serif' font-size="49.8">(b)</text>
</g>
<g id="panel-c">
<rect x="115" y="1515.8" width="713.6" height="871.7" fill="#e2f8c4"/>
<path d="M257.72 1689.7v-12.5M400.44 1689.7v-12.5M543.16 1689.7v-12.5M685.88 1689.7v-12.5M186.36 1689.7v-6.3M329.08 1689.7v-6.3M471.8 1689.7v-6.3M614.52 1689.7v-6.3M757.24 1689.7v-6.3M257.72 1864.5v-12.5M400.44 1864.5v-12.5M543.16 1864.5v-12.5M685.88 1864.5v-12.5M186.36 1864.5v-6.3M329.08 1864.5v-6.3M471.8 1864.5v-6.3M614.52 1864.5v-6.3M757.24 1864.5v-6.3M257.72 2036.4v-12.5M400.44 2036.4v-12.5M543.16 2036.4v-12.5M685.88 2036.4v-12.5M186.36 2036.4v-6.3M329.08 2036.4v-6.3M471.8 2036.4v-6.3M614.52 2036.4v-6.3M757.24 2036.4v-6.3M257.72 2213.2v-12.5M400.44 2213.2v-12.5M543.16 2213.2v-12.5M685.88 2213.2v-12.5M186.36 2213.2v-6.3M329.08 2213.2v-6.3M471.8 2213.2v-6.3M614.52 2213.2v-6.3M757.24 2213.2v-6.3M257.72 2387.5v-12.5M400.44 2387.5v-12.5M543.16 2387.5v-12.5M685.88 2387.5v-12.5M186.36 2387.5v-6.3M329.08 2387.5v-6.3M471.8 2387.5v-6.3M614.52 2387.5v-6.3M757.24 2387.5v-6.3" fill="none" stroke="#000" stroke-width="2.9"/>
<path d="M115.3 1667.7L164.8 1667.3 194.8 1666.8 223.3 1666.3 268.3 1665.8 293.8 1665.1 308.8 1664.4 313.3 1664 314.8 1663.7 316.3 1663.2 317.8 1662.6 319.3 1661.9 320.8 1660.8 322.3 1659.5 323.8 1657.7 325.3 1655.4 326.8 1652.4 328.3 1648.7 329.8 1644.2 331.3 1639.1 332.8 1633.4 334.3 1627.4 337.3 1615.1 338.8 1609.3 340.3 1603.8 341.8 1598.8 343.3 1594.5 344.8 1590.7 346.3 1587.5 347.8 1584.9 349.3 1582.9 350.8 1581.3 352.3 1580.4 353.8 1580.2 355.3 1580.5 356.8 1581.6 358.3 1583.6 359.8 1586.6 361.3 1590.9 362.8 1596.4 364.3 1602.6 367.3 1615.9 368.8 1622.3 370.3 1628.2 371.8 1633.5 373.3 1638.4 374.8 1642.8 376.3 1646.6 377.8 1649.9 379.3 1652.6 380.8 1654.6 382.3 1656.1 383.8 1657 385.3 1657.6 386.8 1657.8 388.3 1657.9 391.3 1657.7 403.3 1655.9 406.3 1655.8 409.3 1655.9 413.8 1656.6 416.8 1657.2 421.3 1658.7 425.8 1660.4 431.8 1663 436.3 1664.5 440.8 1665.7 446.8 1666.6 451.3 1667.1 457.3 1667.3 605.8 1667.2 634.3 1667 643.3 1666.5 662.8 1665.1 668.8 1665 674.8 1665.4 695.8 1667.1 703.3 1667.3 827.8 1667.3" fill="none" stroke="#9933ff" stroke-width="3.0" stroke-linejoin="round" stroke-linecap="butt"/>
<path d="M115.3 1840.7L167.8 1840.4 176.8 1840.2 188.8 1839.4 194.8 1838.7 206.8 1836.9 212.8 1836.4 223.3 1836 230.8 1836.2 244.3 1837.2 257.8 1838.9 263.8 1839.3 275.8 1839.5 280.3 1839.3 284.8 1838.6 290.8 1837.4 293.8 1836.5 296.8 1835.4 299.8 1833.9 302.8 1832 305.8 1829.7 307.3 1828.4 308.8 1826.9 310.3 1825.3 311.8 1823.4 313.3 1821.3 314.8 1819.1 316.3 1816.7 317.8 1814.1 320.8 1808.5 326.8 1797.2 328.3 1794.6 329.8 1792.1 331.3 1789.8 332.8 1787.6 334.3 1785.7 335.8 1784 338.8 1780.9 340.3 1779.2 341.8 1777 343.3 1774.3 344.8 1771.2 346.3 1767.9 347.8 1764.8 349.3 1762.4 350.8 1761.2 352.3 1761.2 353.8 1762.5 355.3 1764.9 356.8 1768.5 358.3 1772.9 364.3 1792.2 367.3 1801.7 368.8 1806.2 370.3 1810.6 371.8 1814.6 373.3 1818.3 374.8 1821.4 376.3 1823.8 377.8 1825.7 379.3 1827.1 380.8 1828.3 382.3 1829.1 383.8 1829.8 386.8 1830.7 401.8 1834.2 415.3 1837.6 422.8 1839 428.8 1839.7 439.3 1840.4 448.3 1840.7 475.3 1840.4 491.8 1840.3 499.3 1839.8 511.3 1838.6 523.3 1837 538.3 1835.6 544.3 1835.4 548.8 1835.5 553.3 1836.1 559.3 1837 568.3 1837.9 572.8 1838.1 575.8 1838 580.3 1837.5 589.3 1835.8 598.3 1833.8 605.8 1832.5 610.3 1832.1 616.3 1832.2 622.3 1832.5 625.3 1832.9 629.8 1833.9 635.8 1835.5 643.3 1836.8 652.3 1838 665.8 1839.2 679.3 1840 697.3 1840.6 757.3 1841 790.3 1841.6 800.8 1841.5 821.8 1840.4 827.8 1840.1" fill="none" stroke="#0a8a0a" stroke-width="3.0" stroke-linejoin="round" stroke-linecap="butt"/>
<path d="M115.3 2015.7L187.3 2015.5 194.8 2015.3 202.3 2014.5 212.8 2013.3 217.3 2013.2 223.3 2013.6 232.3 2014.8 236.8 2015 274.3 2014.4 296.8 2014 301.3 2013.8 305.8 2013.2 308.8 2012.5 310.3 2011.9 311.8 2011.1 313.3 2010 314.8 2008.6 316.3 2006.7 317.8 2004.1 319.3 2000.5 320.8 1995.6 322.3 1989.1 323.8 1981.4 325.3 1972.8 326.8 1964.4 328.3 1957.4 329.8 1952.6 331.3 1950.3 332.8 1950.6 334.3 1953.1 335.8 1957.2 337.3 1962 338.8 1966.6 340.3 1970.8 341.8 1974.7 343.3 1978.8 344.8 1983.1 347.8 1992.1 349.3 1996.3 350.8 2000.1 352.3 2003.4 353.8 2006.1 355.3 2007.9 356.8 2008.9 358.3 2009.4 359.8 2009.5 362.8 2009.5 368.8 2008.6 377.8 2008.4 379.3 2008.3 382.3 2007.6 385.3 2006.9 388.3 2006.4 389.8 2006.3 391.3 2006.3 392.8 2006.5 394.3 2006.8 400.3 2008.9 409.3 2012.5 413.8 2014.1 416.8 2014.8 421.3 2015.1 433.3 2015.4 494.8 2015.4 499.3 2015.1 506.8 2014 512.8 2012.8 517.3 2011.4 521.8 2010 524.8 2009.5 529.3 2009.4 535.3 2009.6 536.8 2009.8 538.3 2010.1 541.3 2011.2 544.3 2012.4 547.3 2013.3 553.3 2014.5 556.3 2014.8 562.3 2015 575.8 2014.9 578.8 2014.7 581.8 2014.1 589.3 2011.8 596.8 2009.9 599.8 2009.4 602.8 2009.3 605.8 2009.6 614.8 2011.7 622.3 2013.7 625.3 2014.3 628.3 2014.4 631.3 2014.3 637.3 2013.4 641.8 2012.5 646.3 2011.5 647.8 2011.4 649.3 2011.4 652.3 2011.7 659.8 2013 671.8 2014.5 679.3 2015 697.3 2015.4 809.8 2015.4 821.8 2014.9 827.8 2014.6" fill="none" stroke="#0000ff" stroke-width="3.0" stroke-linejoin="round" stroke-linecap="butt"/>
<path d="M115.3 2190.1L190.3 2190 197.8 2189.5 214.3 2188.2 220.3 2188 226.3 2188.2 250.3 2190 259.3 2190 293.8 2189.1 302.8 2188.7 305.8 2188.4 308.8 2187.7 311.8 2186.7 313.3 2185.9 314.8 2184.9 316.3 2183.5 317.8 2181.8 319.3 2179.7 320.8 2177.2 322.3 2174.3 323.8 2171.1 325.3 2167.4 326.8 2163.5 329.8 2155.2 331.3 2151.2 332.8 2147.6 334.3 2144.6 335.8 2142.4 337.3 2141 338.8 2140.7 340.3 2141.4 341.8 2143 343.3 2145.2 344.8 2148 346.3 2151.3 347.8 2154.8 352.3 2165.9 353.8 2169.3 355.3 2172.6 356.8 2175.5 358.3 2178 359.8 2180 361.3 2181.6 362.8 2182.8 364.3 2183.6 365.8 2184.2 367.3 2184.4 370.3 2184.4 379.3 2183.7 386.8 2182.8 391.3 2182.6 398.8 2182.7 401.8 2182.9 404.8 2183.7 410.8 2185.7 416.8 2187.3 422.8 2188.5 428.8 2189.3 437.8 2190 446.8 2190.3 505.3 2189.8 509.8 2189.5 517.3 2188.4 521.8 2187.5 527.8 2186 530.8 2185.5 536.8 2185.4 541.3 2185.5 544.3 2185.8 547.3 2186.5 551.8 2187.8 556.3 2188.6 563.8 2189.3 569.8 2189.6 577.3 2189.3 586.3 2188.6 590.8 2187.8 596.8 2186.6 601.3 2186 608.8 2185.5 611.8 2185.5 614.8 2185.8 623.8 2187.6 626.8 2187.9 631.3 2187.8 646.3 2186.6 658.3 2186.1 662.8 2186.3 667.3 2187 673.3 2188.1 685.3 2189.4 691.3 2189.8 736.3 2190 769.3 2190.3 796.3 2190.5 812.8 2190.2 827.8 2189.7" fill="none" stroke="#ff0000" stroke-width="3.0" stroke-linejoin="round" stroke-linecap="butt"/>
<path d="M115.3 2364.6L188.8 2364.4 194.8 2364.3 202.3 2363.6 208.3 2363.1 212.8 2363 217.3 2363.4 226.3 2364.4 230.8 2364.6 241.3 2364.3 262.3 2363.4 286.3 2362.9 293.8 2362.5 298.3 2361.9 299.8 2361.6 301.3 2361.2 302.8 2360.6 304.3 2359.8 305.8 2358.8 307.3 2357.6 308.8 2356 310.3 2353.9 311.8 2351.1 313.3 2347.5 314.8 2342.8 316.3 2336.8 317.8 2329.4 319.3 2320.5 320.8 2310.4 323.8 2288.7 325.3 2279.3 326.8 2272 328.3 2267.7 329.8 2266.4 331.3 2267.8 332.8 2271.5 334.3 2276.9 335.8 2283.4 337.3 2290.4 338.8 2297.6 343.3 2319.9 344.8 2327 346.3 2333.8 347.8 2339.9 349.3 2345.2 350.8 2349.5 352.3 2352.7 353.8 2354.7 355.3 2355.8 356.8 2356.2 358.3 2356.1 361.3 2355.5 364.3 2354.5 376.3 2349.1 377.8 2348.5 379.3 2348.2 380.8 2348 385.3 2347.9 386.8 2348 388.3 2348.3 389.8 2348.8 391.3 2349.7 394.3 2351.8 400.3 2356.7 403.3 2358.8 406.3 2360.5 407.8 2361.2 409.3 2361.8 412.3 2362.6 418.3 2363.6 424.3 2364.1 439.3 2364.7 451.3 2364.8 473.8 2364.6 494.8 2364.6 500.8 2364.1 521.8 2362 526.3 2361.9 529.3 2362.1 538.3 2363.5 548.8 2364.3 556.3 2364.6 563.8 2364.5 574.3 2363.8 580.3 2363.3 586.3 2362.2 590.8 2361.4 593.8 2361.2 596.8 2361.3 602.8 2362.1 607.3 2362.8 616.3 2363.4 625.3 2363.6 629.8 2363.5 634.3 2363 641.8 2361.7 644.8 2361.4 649.3 2361.4 659.8 2362.3 676.3 2364 689.8 2364.6 704.8 2364.9 773.8 2365.1 796.3 2365 802.3 2364.6 826.3 2362.1 827.8 2362" fill="none" stroke="#808080" stroke-width="3.0" stroke-linejoin="round" stroke-linecap="butt"/>
<path d="M115 1689.7H828.6M115 1864.5H828.6M115 2036.4H828.6M115 2213.2H828.6" fill="none" stroke="#000" stroke-width="3.0"/>
<rect x="115" y="1515.8" width="713.6" height="871.7" fill="none" stroke="#000" stroke-width="3.0"/>
<path d="M331.9 1525.5L328.4 2400" stroke="#000" stroke-width="4.0" stroke-dasharray="4.6 14.71" stroke-dashoffset="0" fill="none"/>
<path d="M353.4 1566.4V1602.4" stroke="#000" stroke-width="3.8" fill="none"/>
<path d="M351.1 1746.8V1780.8" stroke="#000" stroke-width="3.8" fill="none"/>
<path d="M330 1935V1973.2" stroke="#000" stroke-width="3.8" fill="none"/>
<path d="M338.3 2127V2161.8" stroke="#000" stroke-width="3.8" fill="none"/>
<text x="346.64" y="1573.56" font-family='"Liberation Sans", Arial, Helvetica, sans-serif' font-size="31" font-weight="bold">*</text>
<text x="345.44" y="1752.06" font-family='"Liberation Sans", Arial, Helvetica, sans-serif' font-size="31" font-weight="bold">*</text>
<text x="326.94" y="1950.26" font-family='"Liberation Sans", Arial, Helvetica, sans-serif' font-size="31" font-weight="bold">*</text>
<text x="332.74" y="2136.46" font-family='"Liberation Sans", Arial, Helvetica, sans-serif' font-size="31" font-weight="bold">*</text>
<text x="323.04" y="2261.16" font-family='"Liberation Sans", Arial, Helvetica, sans-serif' font-size="31" font-weight="bold">*</text>
<text x="640.53" y="2250.36" font-family='"Liberation Sans", Arial, Helvetica, sans-serif' font-size="30" font-weight="bold">*</text>
<text x="658.95" y="2247" font-family='"Liberation Sans", Arial, Helvetica, sans-serif' font-size="18.7" font-weight="bold">MAI:PbCl<tspan font-size="11.59" dy="4.11">2</tspan><tspan dy="-4.11"> in DMF</tspan></text>
<text x="98.77" y="2423.8" font-family='"Liberation Sans", Arial, Helvetica, sans-serif' font-size="28.4" font-weight="normal" fill="#000" letter-spacing="1.3">30</text>
<text x="241.63" y="2423.8" font-family='"Liberation Sans", Arial, Helvetica, sans-serif' font-size="28.4" font-weight="normal" fill="#000" letter-spacing="1.3">31</text>
<text x="384.37" y="2423.8" font-family='"Liberation Sans", Arial, Helvetica, sans-serif' font-size="28.4" font-weight="normal" fill="#000" letter-spacing="1.3">32</text>
<text x="527" y="2423.8" font-family='"Liberation Sans", Arial, Helvetica, sans-serif' font-size="28.4" font-weight="normal" fill="#000" letter-spacing="1.3">33</text>
<text x="669.51" y="2423.8" font-family='"Liberation Sans", Arial, Helvetica, sans-serif' font-size="28.4" font-weight="normal" fill="#000" letter-spacing="1.3">34</text>
<text x="812.41" y="2423.8" font-family='"Liberation Sans", Arial, Helvetica, sans-serif' font-size="28.4" font-weight="normal" fill="#000" letter-spacing="1.3">35</text>
<g transform="translate(428.8 2482.3) scale(1.055 1)" font-size="35" fill="#000"><text class="hv" x="-1.76" y="0" font-family='"Liberation Sans", Arial, Helvetica, sans-serif'>2</text><text transform="translate(20.93 0) scale(1.223 1)" font-family='"Liberation Serif", "Times New Roman", Times, serif' font-style="italic" font-size="33.95">θ</text><text class="hv" x="44.48" y="0" font-family='"Liberation Sans", Arial, Helvetica, sans-serif'>(°)</text></g>
<text class="hv" font-family='"Liberation Sans", Arial, Helvetica, sans-serif' font-size="34.8" font-weight="normal" fill="#000" transform="translate(88.9 1991.01) rotate(-90) scale(1.0 1.066)">Intensity (a.u.)</text>
<text x="4.7" y="1581.4" font-family='"Liberation Serif", "Times New Roman", Times, serif' font-size="50">(c)</text>
</g>
<g id="panel-d">
<rect x="888.2" y="1255.7" width="841.8" height="1241.5" fill="#fffff6"/>
<rect x="971" y="1276.6" width="723.5" height="1105" fill="#e9fcca"/>
<path d="M1102.55 1497.6v-12.7M1234.09 1497.6v-12.7M1365.64 1497.6v-12.7M1497.18 1497.6v-12.7M1628.73 1497.6v-12.7M1036.77 1497.6v-6.2M1168.32 1497.6v-6.2M1299.86 1497.6v-6.2M1431.41 1497.6v-6.2M1562.95 1497.6v-6.2M1102.55 1718.8v-12.7M1234.09 1718.8v-12.7M1365.64 1718.8v-12.7M1497.18 1718.8v-12.7M1628.73 1718.8v-12.7M1036.77 1718.8v-6.2M1168.32 1718.8v-6.2M1299.86 1718.8v-6.2M1431.41 1718.8v-6.2M1562.95 1718.8v-6.2M1102.55 1939.7v-12.7M1234.09 1939.7v-12.7M1365.64 1939.7v-12.7M1497.18 1939.7v-12.7M1628.73 1939.7v-12.7M1036.77 1939.7v-6.2M1168.32 1939.7v-6.2M1299.86 1939.7v-6.2M1431.41 1939.7v-6.2M1562.95 1939.7v-6.2M1102.55 2160.4v-12.7M1234.09 2160.4v-12.7M1365.64 2160.4v-12.7M1497.18 2160.4v-12.7M1628.73 2160.4v-12.7M1036.77 2160.4v-6.2M1168.32 2160.4v-6.2M1299.86 2160.4v-6.2M1431.41 2160.4v-6.2M1562.95 2160.4v-6.2M1102.55 2381.6v-12.7M1234.09 2381.6v-12.7M1365.64 2381.6v-12.7M1497.18 2381.6v-12.7M1628.73 2381.6v-12.7M1036.77 2381.6v-6.2M1168.32 2381.6v-6.2M1299.86 2381.6v-6.2M1431.41 2381.6v-6.2M1562.95 2381.6v-6.2" fill="none" stroke="#000" stroke-width="2.5"/>
<path d="M1068 1459.5L1626.3 1305.6" stroke="#9933ff" stroke-width="2.5" fill="none"/>
<circle cx="1068.3" cy="1462.1" r="7.6" fill="#9933ff"/>
<circle cx="1357.1" cy="1320.6" r="7.6" fill="#9933ff"/>
<circle cx="1424.4" cy="1433.1" r="7.6" fill="#9933ff"/>
<circle cx="1624" cy="1291.2" r="7.6" fill="#9933ff"/>
<rect x="982" y="1287.3" width="96.6" height="32.3" fill="#fffffb"/>
<text x="983.36" y="1313.8" font-family='"Liberation Serif", "Times New Roman", Times, serif' font-size="27.2" font-weight="bold" fill="#9933ff">ε</text>
<text x="1001.88" y="1313" font-family='"Liberation Sans", Arial, Helvetica, sans-serif' font-size="27" font-weight="bold" fill="#9933ff">= 0.18</text>
<text font-family='"Liberation Sans", Arial, Helvetica, sans-serif' font-size="30" font-weight="bold" fill="#9933ff" transform="translate(1668 1454.47) rotate(-90) scale(1.0 1.1)">10-rGO</text>
<path d="M1064.3 1646.6L1617.5 1526.3" stroke="#0a8a0a" stroke-width="2.5" fill="none"/>
<circle cx="1068.3" cy="1661.7" r="7.6" fill="#0a8a0a"/>
<circle cx="1357.1" cy="1520.5" r="7.6" fill="#0a8a0a"/>
<circle cx="1424.4" cy="1642.2" r="7.6" fill="#0a8a0a"/>
<circle cx="1624" cy="1519.8" r="7.6" fill="#0a8a0a"/>
<rect x="982" y="1511.7" width="96.6" height="32" fill="#fffffb"/>
<text x="983.36" y="1538.2" font-family='"Liberation Serif", "Times New Roman", Times, serif' font-size="27.2" font-weight="bold" fill="#0a8a0a">ε</text>
<text x="1001.88" y="1537.4" font-family='"Liberation Sans", Arial, Helvetica, sans-serif' font-size="27" font-weight="bold" fill="#0a8a0a">= 0.16</text>
<text font-family='"Liberation Sans", Arial, Helvetica, sans-serif' font-size="30" font-weight="bold" fill="#0a8a0a" transform="translate(1668 1654.35) rotate(-90) scale(1.0 1.1)">9-rGO</text>
<path d="M1072 1913.6L1625.1 1793.8" stroke="#0000ff" stroke-width="2.5" fill="none"/>
<circle cx="1068.3" cy="1894.6" r="7.6" fill="#0000ff"/>
<circle cx="1357.1" cy="1844.6" r="7.6" fill="#0000ff"/>
<circle cx="1424.4" cy="1902.1" r="7.6" fill="#0000ff"/>
<circle cx="1624" cy="1757.6" r="7.6" fill="#0000ff"/>
<rect x="978.5" y="1732.4" width="95.8" height="31.7" fill="#fffffb"/>
<text x="979.86" y="1758.9" font-family='"Liberation Serif", "Times New Roman", Times, serif' font-size="27.2" font-weight="bold" fill="#0000ff">ε</text>
<text x="998.38" y="1758.1" font-family='"Liberation Sans", Arial, Helvetica, sans-serif' font-size="27" font-weight="bold" fill="#0000ff">= 0.15</text>
<text font-family='"Liberation Sans", Arial, Helvetica, sans-serif' font-size="30" font-weight="bold" fill="#0000ff" transform="translate(1668 1878.91) rotate(-90) scale(1.0 1.1)">8-rGO</text>
<path d="M1072 2145.9L1625.1 1999.2" stroke="#ff0000" stroke-width="2.5" fill="none"/>
<circle cx="1068.3" cy="2136.4" r="7.6" fill="#ff0000"/>
<circle cx="1357.1" cy="2020.5" r="7.6" fill="#ff0000"/>
<circle cx="1424.4" cy="2136" r="7.6" fill="#ff0000"/>
<circle cx="1624" cy="1966.7" r="7.6" fill="#ff0000"/>
<rect x="981.3" y="1951.7" width="95.8" height="30.1" fill="#fffffb"/>
<text x="982.66" y="1977.5" font-family='"Liberation Serif", "Times New Roman", Times, serif' font-size="27.2" font-weight="bold" fill="#ff0000">ε</text>
<text x="1001.18" y="1976.7" font-family='"Liberation Sans", Arial, Helvetica, sans-serif' font-size="27" font-weight="bold" fill="#ff0000">= 0.28</text>
<text font-family='"Liberation Sans", Arial, Helvetica, sans-serif' font-size="30" font-weight="bold" fill="#ff0000" transform="translate(1668 2087.47) rotate(-90) scale(1.0 1.1)">7-rGO</text>
<path d="M1072 2356.5L1612.4 2223.8" stroke="#404040" stroke-width="2.5" fill="none"/>
<circle cx="1068.3" cy="2357.6" r="7.6" fill="#404040"/>
<circle cx="1357.1" cy="2241.7" r="7.6" fill="#404040"/>
<circle cx="1424.4" cy="2344.8" r="7.6" fill="#404040"/>
<circle cx="1624" cy="2204.8" r="7.6" fill="#404040"/>
<rect x="981.3" y="2174" width="95.8" height="31.3" fill="#fffffb"/>
<text x="982.66" y="2200.9" font-family='"Liberation Serif", "Times New Roman", Times, serif' font-size="27.2" font-weight="bold" fill="#404040">ε</text>
<text x="1001.18" y="2200.1" font-family='"Liberation Sans", Arial, Helvetica, sans-serif' font-size="27" font-weight="bold" fill="#404040">= 0.37</text>
<text font-family='"Liberation Sans", Arial, Helvetica, sans-serif' font-size="29" font-weight="bold" fill="#404040" transform="translate(1672.2 2354.53) rotate(-90) scale(1.048 1.096)">MAI: PbCl<tspan font-size="19.5" dy="7">2</tspan></text>
<path d="M971 1497.6H1694.5M971 1718.8H1694.5M971 1939.7H1694.5M971 2160.4H1694.5" fill="none" stroke="#000" stroke-width="2.6"/>
<rect x="971" y="1276.6" width="723.5" height="1105" fill="none" stroke="#000" stroke-width="2.6"/>
<text x="949.74" y="2420.4" font-family='"Liberation Sans", Arial, Helvetica, sans-serif' font-size="29.8" font-weight="normal" fill="#000">0.4</text>
<text x="1081.51" y="2420.4" font-family='"Liberation Sans", Arial, Helvetica, sans-serif' font-size="29.8" font-weight="normal" fill="#000">0.6</text>
<text x="1213.04" y="2420.4" font-family='"Liberation Sans", Arial, Helvetica, sans-serif' font-size="29.8" font-weight="normal" fill="#000">0.8</text>
<text x="1343.97" y="2420.4" font-family='"Liberation Sans", Arial, Helvetica, sans-serif' font-size="29.8" font-weight="normal" fill="#000">1.0</text>
<text x="1475.68" y="2420.4" font-family='"Liberation Sans", Arial, Helvetica, sans-serif' font-size="29.8" font-weight="normal" fill="#000">1.2</text>
<text x="1606.92" y="2420.4" font-family='"Liberation Sans", Arial, Helvetica, sans-serif' font-size="29.8" font-weight="normal" fill="#000">1.4</text>
<text x="1288.24" y="2481.7" font-family='"Liberation Sans", Arial, Helvetica, sans-serif' font-size="37.4" font-weight="normal" fill="#000" class="hv">4sin</text>
<text transform="translate(1356.39 2482.0) scale(1.128 1)" font-family='"Liberation Serif", "Times New Roman", Times, serif' font-size="38">θ</text>
<text font-family='"Liberation Serif", "Times New Roman", Times, serif' font-size="38" font-weight="normal" fill="#000" transform="translate(926.4 1855.47) rotate(-90) scale(1.13 1.0)">β</text>
<text class="hv" font-family='"Liberation Sans", Arial, Helvetica, sans-serif' font-size="34" font-weight="normal" fill="#000" transform="translate(926.4 1832.84) rotate(-90) scale(1.0 1.13)">cos</text>
<text font-family='"Liberation Serif", "Times New Roman", Times, serif' font-size="38" font-weight="normal" fill="#000" transform="translate(926.4 1777.42) rotate(-90) scale(1.08 1.0)">θ</text>
<text x="866.4" y="1344.8" font-family='"Liberation Serif", "Times New Roman", Times, serif' font-size="50.5">(d)</text>
</g>
</svg></body></html>
